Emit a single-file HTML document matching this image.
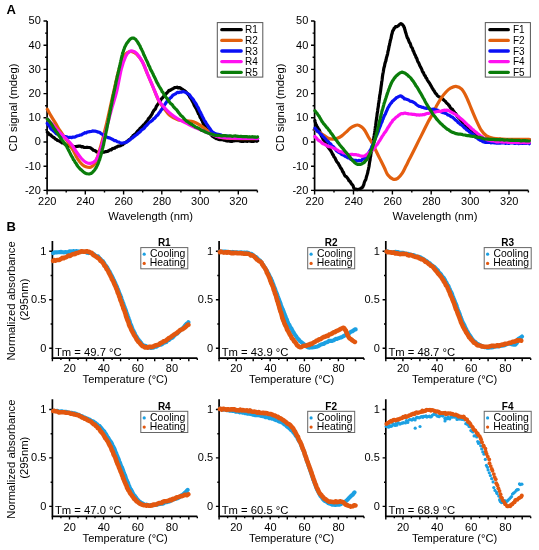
<!DOCTYPE html>
<html><head><meta charset="utf-8"><title>CD and melting curves</title>
<style>
html,body{margin:0;padding:0;background:#fff;}
body{width:539px;height:550px;overflow:hidden;}
svg{display:block;will-change:transform;}
text{font-family:"Liberation Sans",sans-serif;fill:#000;}
</style></head><body>
<svg width="539" height="550" viewBox="0 0 539 550">
<rect width="539" height="550" fill="#fff"/>
<text x="6.5" y="14.3" font-size="13" font-weight="bold">A</text>
<path d="M47.1 21 V190.4 H257.4" fill="none" stroke="#000" stroke-width="1.7"/>
<path d="M47.1 190.4 H43.5 M47.1 178.3 H45.1 M47.1 166.2 H43.5 M47.1 154.1 H45.1 M47.1 142 H43.5 M47.1 129.9 H45.1 M47.1 117.8 H43.5 M47.1 105.7 H45.1 M47.1 93.6 H43.5 M47.1 81.5 H45.1 M47.1 69.4 H43.5 M47.1 57.3 H45.1 M47.1 45.2 H43.5 M47.1 33.1 H45.1 M47.1 21 H43.5 M47.1 190.4 V194.4 M66.2 190.4 V192.6 M85.3 190.4 V194.4 M104.5 190.4 V192.6 M123.6 190.4 V194.4 M142.7 190.4 V192.6 M161.8 190.4 V194.4 M180.9 190.4 V192.6 M200.1 190.4 V194.4 M219.2 190.4 V192.6 M238.3 190.4 V194.4 M257.4 190.4 V192.6" stroke="#000" stroke-width="1.4" fill="none"/>
<text x="40.8" y="193.8" text-anchor="end" font-size="11">-20</text>
<text x="40.8" y="169.6" text-anchor="end" font-size="11">-10</text>
<text x="40.8" y="145.4" text-anchor="end" font-size="11">0</text>
<text x="40.8" y="121.2" text-anchor="end" font-size="11">10</text>
<text x="40.8" y="97" text-anchor="end" font-size="11">20</text>
<text x="40.8" y="72.8" text-anchor="end" font-size="11">30</text>
<text x="40.8" y="48.6" text-anchor="end" font-size="11">40</text>
<text x="40.8" y="24.4" text-anchor="end" font-size="11">50</text>
<text x="47.3" y="204.9" text-anchor="middle" font-size="11">220</text>
<text x="85.5" y="204.9" text-anchor="middle" font-size="11">240</text>
<text x="123.8" y="204.9" text-anchor="middle" font-size="11">260</text>
<text x="162" y="204.9" text-anchor="middle" font-size="11">280</text>
<text x="200.3" y="204.9" text-anchor="middle" font-size="11">300</text>
<text x="238.5" y="204.9" text-anchor="middle" font-size="11">320</text>
<path d="M314.6 21 V190.4 H528.4" fill="none" stroke="#000" stroke-width="1.7"/>
<path d="M314.6 190.4 H311 M314.6 178.3 H312.6 M314.6 166.2 H311 M314.6 154.1 H312.6 M314.6 142 H311 M314.6 129.9 H312.6 M314.6 117.8 H311 M314.6 105.7 H312.6 M314.6 93.6 H311 M314.6 81.5 H312.6 M314.6 69.4 H311 M314.6 57.3 H312.6 M314.6 45.2 H311 M314.6 33.1 H312.6 M314.6 21 H311 M314.6 190.4 V194.4 M334 190.4 V192.6 M353.5 190.4 V194.4 M372.9 190.4 V192.6 M392.4 190.4 V194.4 M411.8 190.4 V192.6 M431.2 190.4 V194.4 M450.7 190.4 V192.6 M470.1 190.4 V194.4 M489.6 190.4 V192.6 M509 190.4 V194.4 M528.4 190.4 V192.6" stroke="#000" stroke-width="1.4" fill="none"/>
<text x="308.3" y="193.8" text-anchor="end" font-size="11">-20</text>
<text x="308.3" y="169.6" text-anchor="end" font-size="11">-10</text>
<text x="308.3" y="145.4" text-anchor="end" font-size="11">0</text>
<text x="308.3" y="121.2" text-anchor="end" font-size="11">10</text>
<text x="308.3" y="97" text-anchor="end" font-size="11">20</text>
<text x="308.3" y="72.8" text-anchor="end" font-size="11">30</text>
<text x="308.3" y="48.6" text-anchor="end" font-size="11">40</text>
<text x="308.3" y="24.4" text-anchor="end" font-size="11">50</text>
<text x="314.8" y="204.9" text-anchor="middle" font-size="11">220</text>
<text x="353.7" y="204.9" text-anchor="middle" font-size="11">240</text>
<text x="392.6" y="204.9" text-anchor="middle" font-size="11">260</text>
<text x="431.4" y="204.9" text-anchor="middle" font-size="11">280</text>
<text x="470.3" y="204.9" text-anchor="middle" font-size="11">300</text>
<text x="509.2" y="204.9" text-anchor="middle" font-size="11">320</text>
<text x="150.7" y="219.8" text-anchor="middle" font-size="11.2">Wavelength (nm)</text>
<text x="435.0" y="219.8" text-anchor="middle" font-size="11.2">Wavelength (nm)</text>
<text transform="translate(17.4 107.5) rotate(-90)" text-anchor="middle" font-size="11.3">CD signal (mdeg)</text>
<text transform="translate(283.6 107.5) rotate(-90)" text-anchor="middle" font-size="11.3">CD signal (mdeg)</text>
<path d="M47.3 132.1 48.2 132.9 49.5 134.7 50.6 134.9 51.8 136.3 53.1 137.2 54.2 137.7 55.3 139 56.4 139.4 57.6 140.5 58.7 140.8 59.9 141.3 61.1 142.1 62.2 143 63.3 143 64.5 143.7 65.6 144.8 66.7 145.6 68.2 145.8 69.8 146 71.3 146.9 72.8 146.2 74.3 147.1 75.8 146.6 77.4 146.3 78.9 146.1 80.4 146.2 81.6 146.9 82.8 146.7 84 147.4 85.5 147.5 87 147.2 88.6 147.5 89.8 147.5 90.9 148.2 92.1 149 93.4 150.2 94.5 150.5 95.6 151 96.7 151.9 97.9 152.2 99 152.4 100.4 153 101.8 152.8 103.1 152.1 104.5 152.1 105.9 151.6 107.3 151.5 108.7 150.8 110.1 149.8 111.2 150 112.4 148.6 113.5 148.4 114.6 148.2 115.7 147.2 117 146.9 118.2 146 119.3 146.1 120.5 145.7 121.6 144.9 122.8 144.6 123.9 143.3 125 143 126.1 142.1 127.3 141.2 128.5 140.2 129.7 139.5 130.5 138.9 131.4 137.6 132.3 136.9 133.1 135.4 134 135.1 134.9 134.1 135.8 133.6 136.6 132.6 137.5 131.2 138.4 130.4 139.2 129.8 140.1 128.3 141 127.9 141.8 126.8 142.7 125.9 143.6 124.9 144.4 124.7 145.3 123 146 122.2 146.8 121.3 147.5 120.8 148.3 118.9 149 118.2 149.8 117.2 150.5 116.4 151.2 115.2 152 114.1 152.7 112.4 153.4 111.4 154.1 110.1 154.9 109.5 155.6 108.5 156.3 106.5 157.1 105.3 157.9 104.2 158.7 103.1 159.4 102.2 160.1 101.2 160.8 100 161.6 98.5 162.4 98 163.1 97 163.9 96.3 164.7 95.8 165.5 94.6 166.3 93.5 167.2 92.6 168.1 91.7 169.1 90.3 170 90.4 171.1 89.6 172.3 89 173.4 88.4 174.6 87.7 175.8 87.5 177 87.2 178.1 87.9 179.3 87.6 180.5 88.1 181.7 88.9 182.6 89.4 183.6 90.3 184.6 90.8 185.6 91.6 186.6 92.7 187.5 93.6 188.4 94.9 189.1 95.4 189.8 97.3 190.4 98 191 98.6 191.6 99.8 192.2 101 192.8 102.1 193.4 103 194 104.8 194.5 106 195.1 106.6 195.6 107.7 196.2 108.5 196.7 109.6 197.3 111 197.8 112 198.4 113.7 199 114.2 199.5 115.2 200.1 117.3 200.6 118 201.2 118.7 201.7 120.2 202.3 120.8 202.8 122.4 203.4 123.9 204 124.9 204.6 125.8 205.2 126.5 205.8 127.6 206.4 128.4 207 130 207.7 130.7 208.4 131.9 209.3 132.4 210.2 133.3 211.2 134.8 212.1 135.9 213.1 136.6 214.1 137.3 215.1 137.9 216.3 138.6 217.4 138.7 218.5 139.4 219.9 139.6 221.8 139.6 222.7 139.8 223.8 140.1 224.8 140.2 226 140.7 227.2 141.1 228.4 140.7 229.7 141.2 231.1 141.3 232.4 141.3 233.9 140.8 235.3 140.7 236.8 140.7 237.9 140.7 239.1 140.7 240.4 141.2 241.7 141.5 243.1 141.4 244.6 141 246 141.2 247.4 141.4 248.8 140.6 250.2 141.2 251.6 141.4 252.8 141.3 254 141.3 255.1 141 256.1 140.7 256.9 141.3 257.6 140.8" fill="none" stroke="#000000" stroke-width="3.2" stroke-linejoin="round" stroke-linecap="round"/>
<path d="M47.3 109.3C48 110.5 49.9 114 51.3 116.4C52.7 118.8 54.4 121.3 55.8 123.6C57.2 125.9 58.1 127.9 59.5 130C60.9 132.1 62.3 134 64 136.4C65.7 138.8 67.9 142.1 69.5 144.5C71.1 146.9 72.1 148.6 73.5 151C74.9 153.4 76.3 156.8 77.7 159C79.1 161.2 80.6 163 82 164.3C83.4 165.6 84.6 166.3 86 166.8C87.4 167.3 89 167.8 90.5 167.2C92 166.6 93.6 166 95 163.5C96.4 161 97.7 156.2 99 152C100.3 147.8 101.7 142.9 103 138C104.3 133.1 105.5 128 106.8 122.7C108 117.4 109.3 111.5 110.5 106C111.7 100.5 112.8 95.8 114.1 90C115.4 84.2 117.1 76.4 118.6 71C120.1 65.6 121.5 60.6 123 57.5C124.5 54.4 126 53.5 127.5 52.5C129 51.5 130.5 51.4 132 51.6C133.5 51.9 134.8 52.4 136.5 54C138.2 55.6 140.4 58.1 142.3 61.5C144.2 64.9 145.9 70.2 147.7 74.5C149.5 78.8 151.4 83.2 153.2 87.5C155 91.8 156.8 97 158.6 100.5C160.4 104 162.2 106 164.1 108.5C166 111 167.6 113.7 170 115.6C172.4 117.5 175.5 119.1 178.3 120C181.1 120.9 184.2 120.6 186.7 120.9C189.2 121.2 191.2 121 193.4 121.7C195.6 122.4 197.8 123.7 200 125.1C202.2 126.5 204.5 128.6 206.7 130.1C208.9 131.6 211.2 133.1 213.4 134.3C215.6 135.5 217 136.6 220.1 137.3C223.2 138 225.8 138.2 232 138.4C238.2 138.6 253.3 138.6 257.6 138.6" fill="none" stroke="#E2600E" stroke-width="3.2" stroke-linejoin="round" stroke-linecap="round"/>
<path d="M47.2 123.4 47.8 124.4 48.6 125.1 49.5 126.3 50.4 128 51.3 129.2 52.3 129.9 53.5 131 54.7 132 56 133.5 57.2 134.2 58.3 134.3 59.5 135.5 60.7 136.1 61.8 136.2 63 136.3 64.2 136.8 65.5 136.7 66.8 136.8 68 137.7 69.3 137.4 70.5 137.3 71.7 137.6 72.9 137 74.1 137.2 75.3 136.9 76.6 136.1 77.8 135.8 79 135.5 80.2 135 81.4 134.9 82.6 134 83.8 133.5 85 132.7 86.1 132.9 87.3 132 88.6 131.8 89.8 131.6 91.2 131.5 92.7 130.9 94.1 131.2 95.5 131.2 97 131.6 98.3 132.2 99.5 132.3 100.7 133.3 101.6 133.9 102.5 134.4 103.9 135.9 105.5 136.2 106.6 136.9 107.9 137.6 109.2 137.9 110.5 138.3 111.8 139 113.2 139.7 114.5 140.6 115.9 140.7 117.3 141.7 118.7 142 120 142.6 121.4 143.2 122.8 143 124.2 142.7 125.6 142.5 126.8 142.1 128.1 141 129.3 140.3 130.5 139.2 131.5 138.5 132.6 137.8 133.7 136.8 134.9 135.9 135.9 135.1 136.9 134.5 138 133.4 139 132.6 140.1 131.8 141.1 130.3 142.2 129.6 143.2 129 144.3 128 145.3 126.5 146.2 125.7 147 125 147.9 123.9 148.8 123.1 149.6 122.1 150.5 121.7 151.5 120.9 152.5 120.2 153.6 118.7 154.6 118.3 155.6 117.2 156.5 115.9 157.3 115.4 158.2 114.4 159.1 112.7 159.9 112.1 160.8 110.5 161.6 109.5 162.3 108.8 163.1 107.4 163.9 105.7 164.6 104.8 165.3 103.8 166 102.7 167.1 101.2 168 100.3 169 99.7 170 98.1 170.9 97.6 171.8 96.6 172.8 95.3 173.9 94.6 175 94.1 176.2 93.3 177.6 92.3 178.9 92.6 180.3 92 181.7 92.1 183.1 91.5 184.5 92 185.8 92.4 187.2 93.6 188.4 94 189.3 94.6 190.2 95.7 191 97.1 191.8 98 192.6 98.7 193.4 99.7 194 101.2 194.7 101.9 195.3 103 195.9 103.6 196.5 104.7 197.2 106.3 197.8 107.2 198.4 108.1 199 109.8 199.5 110.7 200.1 111.9 200.6 112.5 201.2 114.3 201.7 114.8 202.3 116.5 202.8 117.3 203.4 118.3 204 119.6 204.7 121 205.3 121.6 205.9 122.6 206.5 123.9 207.2 124.7 207.8 125.6 208.4 126.5 209.2 127.6 210 128.8 210.8 129.9 211.6 130.9 212.5 132.1 213.4 132.4 214.5 133.3 215.5 133.6 216.6 134.1 218.1 134.3 220.1 134.9 221 134.9 221.9 135.7 222.9 135.7 224 135.6 225.2 136 226.3 136.6 227.6 136.1 228.8 136.9 230.1 136.8 231.4 137 232.8 137.4 234.1 137.2 235.5 137.5 236.8 137.8 238 138.1 239.2 137.7 240.5 138.1 241.9 138.1 243.3 138.1 244.7 138 246.1 138 247.5 137.8 248.9 137.9 250.3 137.9 251.6 138.4 252.9 138.1 254.1 138 255.1 138 256.1 138.6 256.9 138.7 257.6 138.5" fill="none" stroke="#0A10F5" stroke-width="3.2" stroke-linejoin="round" stroke-linecap="round"/>
<path d="M47.3 119C47.8 119.5 49.4 121.2 50.5 122.3C51.6 123.4 52.4 124.3 53.8 125.8C55.2 127.3 57.1 129.8 58.7 131.5C60.3 133.2 62 134.7 63.6 136.3C65.2 137.9 67 139.6 68.5 141.2C70 142.8 71.3 144.2 72.6 146C73.9 147.8 75 149.9 76.5 152C78 154.1 79.8 156.8 81.4 158.5C83 160.2 84.5 161.5 86 162.3C87.5 163.1 88.9 163.7 90.5 163.4C92.1 163.1 94 162.5 95.6 160.5C97.1 158.5 98.1 156.2 99.8 151.5C101.5 146.8 103.7 138.9 105.6 132C107.5 125.1 109.5 116.5 111.3 110C113.1 103.5 114.7 99.5 116.4 92.7C118.1 85.9 119.8 75.1 121.3 69.1C122.8 63.1 124.3 59.5 125.6 56.6C126.9 53.8 127.8 52.9 129 52C130.2 51.1 131.2 50.7 132.5 51C133.8 51.3 135.2 51.8 136.8 53.6C138.4 55.4 140.5 58.3 142.3 61.8C144.1 65.3 145.9 70.2 147.7 74.5C149.5 78.8 151.4 83 153.2 87.3C155 91.5 156.8 96.7 158.6 100C160.4 103.3 162.2 105.1 164.1 107.3C166 109.5 167.6 111.2 170 113.2C172.4 115.2 175.5 117.5 178.3 119.2C181.1 120.9 183.9 122 186.7 123.4C189.5 124.8 192.2 126.3 195 127.6C197.8 128.8 200.3 129.7 203.4 130.9C206.5 132.2 210.1 134 213.4 135.1C216.7 136.2 216 137 223.4 137.6C230.8 138.2 251.9 138.3 257.6 138.4" fill="none" stroke="#FF10F0" stroke-width="3.2" stroke-linejoin="round" stroke-linecap="round"/>
<path d="M47.3 119 48.1 119.8 49.2 121.1 50.4 122.7 51.1 123.5 51.8 124.7 52.5 125.8 53.3 127.4 54 128.5 54.7 129.3 55.4 130.2 56.2 131.7 56.9 132.4 57.6 133.5 58.3 134.4 59 135.7 59.8 136.8 60.5 137.9 61.3 138.9 62 140.1 62.8 140.9 63.6 142.2 64.4 143.2 65.1 144.5 65.8 145.2 66.6 146.4 67.2 147.6 67.8 148.6 68.5 150.1 69.1 151.1 69.7 152.4 70.3 153.6 71 155 71.7 156.3 72.3 157.2 72.9 158.3 73.5 159.8 74.2 160.4 74.8 161.7 75.4 162.7 76 163.2 76.9 165 77.7 166.2 78.6 167.2 79.5 168.3 80.3 169.3 81.2 169.7 82.1 170.8 83.1 171.6 84 172.4 85.1 173 86.3 173.6 87.4 173.8 88.6 174 89.8 173.8 91.1 173.4 92.4 172.4 93.6 171.2 94.2 170.5 94.8 169.8 95.4 168.6 96 168 96.6 166.7 97.2 165.5 97.8 164.3 98.3 163.1 98.7 161.9 99.2 160.5 99.6 159.8 99.9 158.6 100.3 157.3 100.7 156 101 154.8 101.4 153 101.8 151.9 102.1 150.6 102.3 149.3 102.6 148.3 102.9 147.4 103.2 145.8 103.5 144.9 103.7 143.7 104 142.1 104.3 140.8 104.6 139.5 104.8 138.3 105.1 137 105.4 135.6 105.6 134.4 105.9 133 106.1 131.8 106.3 130.8 106.6 129.9 106.8 128.5 107 127.4 107.3 125.9 107.5 124.7 107.7 123.6 108 122.6 108.2 121.4 108.5 120.1 108.7 118.5 109 117.3 109.2 116.2 109.4 115.1 109.7 113.7 109.9 113.1 110.1 111.5 110.3 110.8 110.6 109.5 110.8 107.8 111 106.8 111.3 105.8 111.5 104.7 111.8 103.1 112 101.8 112.2 100.5 112.5 99.7 112.7 98 113 97 113.2 95.5 113.5 94.5 113.7 93.6 114 91.9 114.2 91.2 114.5 89.8 114.7 88.8 115 87.5 115.3 86 115.5 85.2 115.8 83.7 116 82.2 116.3 81 116.6 80.1 116.8 78.9 117.1 77.6 117.3 76.3 117.6 75.3 117.9 74.1 118.1 73.3 118.4 71.7 118.6 71.1 118.9 69.8 119.2 68 119.5 67.1 119.8 65.7 120.1 64.4 120.4 62.8 120.7 61.5 120.9 60.3 121.2 59.4 121.5 57.9 121.8 56.6 122.1 55.5 122.4 54.3 122.6 53.2 122.9 52.2 123.2 51.7 123.8 49.7 124.3 48.6 124.9 46.8 125.5 45.7 126 44.7 126.6 43.6 127.1 42.8 127.7 42.3 128.6 40.9 129.5 39.8 130.5 38.8 131.4 38.3 132.3 38.1 133.4 38 134.6 38.7 135.7 39.3 136.8 41 137.5 41.8 138.1 43 138.8 44 139.4 45.1 140.1 46.2 140.7 48 141.4 48.9 141.9 50.1 142.4 51.1 142.9 52.1 143.4 53.5 143.8 54.7 144.3 55.4 144.8 56.8 145.4 57.8 145.9 59.1 146.4 60.1 146.9 61.1 147.5 62.3 148 63.5 148.5 65.1 149.1 66 149.7 67.1 150.2 68.7 150.8 70 151.4 70.9 151.9 71.8 152.5 73 153.1 74.1 153.6 75.4 154.2 76.5 154.8 77.7 155.4 78.9 156 80.3 156.5 81.6 157.1 82.7 157.7 83.5 158.3 84.7 159 86 159.6 87 160.3 88.1 160.9 89.1 161.6 90.3 162.2 91.8 162.9 92.3 163.5 93.5 164.1 94.6 164.9 95.9 165.6 96.5 166.3 97.6 167 98.6 167.8 99.6 168.5 100.6 169.2 101.8 170 102.7 170.8 103.7 171.6 104.1 172.5 105.1 173.3 106.4 174.2 107.5 175 108.2 175.9 109.2 176.7 109.8 177.5 111 178.4 112.4 179.2 113.3 180.1 114.4 180.9 115.5 181.7 116 182.6 116.9 183.4 117.8 184.3 118.9 185.2 119.8 186.1 120.8 187.1 121.4 188 122 189 122.8 190 123.4 191 124.1 192 124.4 193 125.5 194.1 125.8 195.2 126.9 196.3 127.3 197.3 127.7 198.4 128.2 199.6 128.9 200.8 129.8 202 130.5 203.1 130.7 204.3 131.3 205.5 132.1 206.7 132.6 207.9 133 208.9 133.3 210 133.9 211.2 133.9 212.3 134.4 213.6 134.8 215.1 135.4 216.1 135.3 217 135.6 217.9 135.4 218.9 135.3 219.9 135.4 221 135.9 222.2 135.8 223.5 135.6 224.9 135.5 226.6 135.8 228.4 136 229.3 135.9 230.4 135.8 231.5 136.1 232.7 136.3 233.9 136 235.3 135.9 236.6 136.2 238 136.3 239.5 136.5 240.9 136.3 242.4 136.7 243.8 136.7 245.3 136.6 246.7 136.5 248.1 137 249.4 136.7 250.7 137 252 136.7 253.1 136.8 254.2 137.1 255.2 136.9 256.1 137.3 256.9 137.1 257.6 136.9" fill="none" stroke="#0A7D0A" stroke-width="3.2" stroke-linejoin="round" stroke-linecap="round"/>
<path d="M314.9 120.6 315.1 121.6 315.5 123.1 315.9 124.7 316.4 125.1 317 126.5 317.7 127.4 318.4 129.3 319.1 129.6 319.6 130.7 320 131.9 320.5 133.5 321.1 135.4 321.6 136.4 322.2 137.3 322.8 138.7 323.4 139.7 324.1 140.2 324.7 141.2 325.3 143 325.9 143.9 326.6 144.2 327.2 145.9 327.8 146.6 328.4 147.6 329.1 148.6 329.8 149.5 330.5 150.3 331.3 151.6 332 152.9 332.7 154.5 333.3 154.9 334 157 334.7 157.5 335.4 158.8 336 160.3 336.8 161.7 337.6 162.6 338.3 163.3 339 165 339.8 166.1 340.6 168 341.3 168.5 342 169.9 342.7 171.8 343.3 172.2 344 173.9 344.7 175.3 345.4 176.3 346.2 176.6 347 177.5 348 178.8 349 180.8 350 181.3 350.9 182.9 351.7 184.2 352.5 184.8 353.2 186.1 353.8 188.1 354.5 188.7 355.7 189 357 189.6 358.5 189.3 360 189 361 188.1 361.9 187.9 362.8 186.9 363.3 185.6 363.8 184.7 364.3 182.5 364.8 181.2 365.2 180.5 365.6 179.9 366 178.7 366.4 177 366.8 175.6 367.2 174.4 367.5 173.4 367.7 172.7 368 170.8 368.2 170.2 368.5 168.9 368.7 167.8 369 166.5 369.2 165.1 369.4 163.6 369.6 162.3 369.8 161.1 370 160.3 370.2 158.3 370.4 157.1 370.6 156.5 370.8 154.7 371 153.3 371.3 152.2 371.5 151.7 371.7 150.3 372 149.8 372.3 148.2 372.6 146.5 372.7 144.9 372.9 143.7 373.1 142.7 373.2 142 373.4 141 373.6 139.6 373.8 138.1 373.9 137 374.1 136 374.3 134.7 374.5 133.5 374.7 132.3 374.9 130.9 375.1 129.1 375.2 128.5 375.4 126.8 375.6 125.8 375.8 124.3 375.9 123.4 376.1 121.6 376.3 120.3 376.5 119 376.6 117.7 376.8 117.1 377 115.5 377.1 114 377.3 112.8 377.5 112.2 377.7 110.4 377.8 108.9 378 108.3 378.2 106.9 378.4 106 378.5 103.9 378.7 103.1 378.9 102.3 379 101.1 379.2 100 379.4 98 379.6 97.1 379.7 95.7 379.9 94.6 380.1 94.1 380.3 92.4 380.5 91.4 380.7 89.7 380.8 89 381 87.4 381.2 86 381.3 85.2 381.5 84.1 381.7 81.9 381.9 81.1 382.1 79.8 382.3 78.1 382.4 77 382.6 75.5 382.8 74.3 383 73.2 383.2 72.3 383.4 71.2 383.6 69.7 383.9 68 384.2 67 384.5 66 384.8 64.2 385.1 63 385.5 61.7 385.8 61.1 386.1 59.7 386.4 58 386.7 56.9 387 56 387.3 55.1 387.6 53.8 387.9 51.9 388.2 50.6 388.5 49.9 388.7 48.3 389 46.9 389.2 45.7 389.5 45.1 389.7 43.3 390 42.4 390.3 40.8 390.6 39.6 390.9 38.7 391.2 37.5 391.5 35.6 391.8 34.2 392.1 33.6 392.4 32 392.7 30.9 393.4 30.1 394.1 28.4 394.8 27.9 395.5 26.7 396.9 26.6 398.2 25.9 399.5 24.5 400.9 23.6 402.2 24.4 403.6 26 404 27.3 404.4 27.6 404.8 29.6 405.2 30.8 405.6 32.4 406 33.4 406.4 34.8 406.9 36.4 407.4 38 407.9 38.3 408.4 39.9 409.1 41.7 409.5 42.8 410 43 410.4 44 410.9 45.9 411.4 47 412 47.7 412.5 48.5 413 50.6 413.6 51.3 414.1 52.9 414.5 53.7 415 55 415.5 55.6 416 57.4 416.6 58 417.1 59.4 417.6 61 418.1 62.2 418.6 62.7 419.1 63.8 419.6 65.2 420.2 66.4 420.7 67.4 421.3 68.3 421.8 69.5 422.3 71.1 422.9 72.3 423.4 72.5 424 74.1 424.5 75.3 425.2 75.8 425.9 77.7 426.6 78.2 427.2 79.8 427.9 80.8 428.6 82 429.3 82.8 430 84 430.7 85.4 431.4 86.4 432.1 87.9 432.8 88.9 433.5 90.1 434.2 90.8 434.9 92.4 435.5 93.2 436.5 94.1 437.4 95.6 438.3 96.4 439.1 96.8 440 97.2 441.1 98.3 442.1 98.6 443.1 99.3 444.1 100.4 445.1 101 446 102.2 446.9 103.3 448 104 448.7 105.4 449.4 105.7 450.1 107.3 450.9 108.3 451.7 109 452.6 109.5 453.4 111 454.2 111.8 455 113.4 455.8 113.6 456.6 115.3 457.5 116.5 458.3 117.2 459.2 118.3 460 118.7 460.8 120.4 461.7 120.9 462.5 122.3 463.3 123.1 464.2 123.3 465 124.8 465.9 125.9 466.7 125.9 467.7 127.2 468.6 128.6 469.6 129 470.5 130.7 471.5 131.1 472.4 132.5 473.4 132.6 474.5 133.9 475.5 135.1 476.5 135.2 477.6 135.9 478.8 136.8 480.1 137.1 481 137.2 481.7 137.7 482.3 137.9 483.1 139 484.1 138.9 485.5 139.3 487.4 138.8 490.1 139.6 490.9 139 491.8 139.4 492.8 139.6 493.9 139.3 495 139.9 496.2 139.6 497.5 139.7 498.8 140 500.1 139.2 501.5 140.2 502.9 139.8 504.4 139.6 505.9 140 507.3 139.5 508.8 140.3 510.3 139.9 511.8 139.7 513.3 140.1 514.8 139.8 516.2 139.6 517.6 140.2 519 139.5 520.3 140.3 521.6 139.7 522.8 140.1 524 140.5 525.1 140.1 526.1 140.2 527 139.9 527.9 139.6 528.6 139.6 529.3 139.7" fill="none" stroke="#000000" stroke-width="3.2" stroke-linejoin="round" stroke-linecap="round"/>
<path d="M314.9 128.8C315.4 129.3 316.9 130.9 318.2 131.8C319.5 132.8 321 133.4 322.7 134.5C324.4 135.6 326.5 137.4 328.2 138.2C329.9 139 331.2 139.1 332.7 139.1C334.2 139.1 335.8 138.7 337.3 138.2C338.8 137.7 340.3 137 341.8 135.9C343.3 134.8 345 133.1 346.4 131.8C347.8 130.5 348.9 129.3 350.2 128.3C351.5 127.3 352.8 126.5 354 126C355.2 125.5 356.2 124.9 357.5 125C358.8 125.1 360.3 126 361.5 126.8C362.7 127.6 363.4 128.4 364.5 130C365.6 131.6 366.8 134.2 368.1 136.5C369.4 138.8 371.1 141.1 372.5 143.8C373.9 146.5 375.4 149.6 376.8 152.5C378.2 155.4 379.9 158.7 381.2 161.3C382.5 163.9 383.4 165.8 384.5 168C385.6 170.2 386.2 172.9 387.7 174.8C389.1 176.7 391.5 178.6 393.2 179.2C394.9 179.8 396.2 179.4 397.7 178.4C399.2 177.4 400.9 175.3 402.3 173.2C403.7 171.1 404.8 168.3 406 166C407.2 163.7 408.1 161.8 409.5 159.1C410.9 156.4 412.6 153 414.1 150C415.6 147 417.1 143.9 418.6 140.9C420.1 137.9 421.7 134.8 423.2 131.8C424.7 128.8 426.3 125.4 427.7 122.7C429.1 120 430.2 118.4 431.6 115.8C433 113.2 434.4 109.9 436 107C437.6 104.1 439.3 100.8 441 98.3C442.7 95.8 444.4 93.7 446 92C447.6 90.3 448.9 89.1 450.5 88.2C452.1 87.3 454 86.2 455.9 86.4C457.8 86.6 460 87.5 461.7 89.2C463.4 90.9 464.7 93.5 466.3 96.7C467.9 99.9 469.6 104.5 471.2 108.4C472.8 112.3 474.5 116.5 476.2 120.1C477.9 123.7 479.5 127.5 481.2 130.1C482.9 132.7 484.5 134.5 486.5 135.9C488.5 137.3 490 137.8 493.4 138.4C496.8 139 500.8 139.2 506.8 139.3C512.8 139.5 525.5 139.3 529.3 139.3" fill="none" stroke="#E2600E" stroke-width="3.2" stroke-linejoin="round" stroke-linecap="round"/>
<path d="M314.9 128.3 315.5 128.8 316.3 129.8 317.3 131.2 318.1 131.4 319 132.4 319.9 133.6 320.9 134.1 321.8 135 322.7 136.2 323.6 136.9 324.6 138.1 325.5 138.9 326.4 140.1 327.4 141 328.3 141.6 329.2 142.9 330 143.6 330.9 144.2 331.7 145.7 332.6 146.1 333.6 147 334.4 147.8 335.2 149.1 336.1 150.3 337.1 151.2 338.1 151.8 339.3 152.6 340.3 153.1 341.4 154.2 342.6 154.8 343.8 155.3 345 156.2 346.2 156.6 347.4 157.5 348.4 157.9 349.6 158.1 350.8 159.3 351.8 159.1 352.8 160 353.9 160.3 355 160.4 356.2 160.4 357.4 161 358.7 160.4 360 160.6 361.2 160.6 362.3 159.5 363.4 158.9 364.4 158.4 365.4 157.4 366.3 156.4 367.2 155.4 368.1 153.7 368.7 152.9 369.3 151.9 369.9 150.7 370.4 150.2 370.9 149 371.4 147.8 372 146.1 372.5 145.6 373 144.4 373.5 143.1 373.9 142.3 374.4 140.9 374.9 139.6 375.4 138.3 375.8 137.3 376.3 135.9 376.8 135 377.2 134.2 377.7 133 378.1 132 378.6 130.7 379 129.1 379.4 128.1 379.9 126.9 380.3 126 380.8 124.6 381.2 123.3 381.7 122.4 382.2 121.5 382.6 119.7 383.1 119.1 383.6 117.3 384.1 116.4 384.5 115.2 385 114.6 385.5 113.7 386 112.3 386.6 110.8 387.1 110 387.7 108.4 388.2 107.3 388.8 106.7 389.3 105.5 389.9 104.7 390.8 103.4 391.7 102.5 392.5 101.1 393.4 100.6 394.3 99.7 395.4 98.8 396.5 97.6 397.6 97.2 398.6 96.6 400.1 95.9 401.5 96.1 402.4 97 403.3 97.5 404.5 99 405.7 98.9 407.1 99.4 408.6 99.9 410 101.1 411.3 101.3 412.5 101.8 413.7 102.4 415 103.1 416 104.3 417 105 418 105.7 419.2 106.4 420.5 106.5 421.6 107.2 422.8 107.3 424.1 107.9 425.5 108.1 426.8 108.4 428.2 108 429.5 108.9 430.8 109.2 432.1 109.5 433.4 109.1 434.8 109.5 436.1 109.8 437.4 110 438.6 111.1 439.8 111.5 441 111.8 442.2 112.4 443.4 112.7 444.5 113 445.6 113.4 446.7 113.9 447.9 115 449 115.2 450.1 115.9 451.2 116.7 452.3 117.1 453.4 118 454.3 118.7 455.3 119.9 456.2 120.4 457.2 121.2 458.1 122.5 459.1 123 460 124.1 461 124.7 461.9 125.1 462.9 126.2 463.8 127.1 464.8 128.2 465.7 128.7 466.7 129.8 467.7 130.4 468.6 131 469.6 132.2 470.5 132.4 471.5 133.7 472.4 134 473.4 134.6 474.3 135.5 475.2 136.8 476.1 137.7 477 137.7 477.9 138.8 479 139.5 480.1 140.3 481 140.3 481.7 140.9 482.3 141.2 483.1 141.9 484.1 141.7 485.5 142.5 487.4 142.2 490.1 142.4 490.9 142.8 491.8 142.7 492.8 142.4 493.9 142.9 495 142.5 496.2 143.1 497.5 143.1 498.8 143.2 500.1 143.1 501.5 142.9 502.9 143 504.4 143 505.9 143.4 507.3 142.8 508.8 143.4 510.3 142.8 511.8 142.9 513.3 143 514.8 143.5 516.2 143.2 517.6 143.2 519 143.6 520.3 143.1 521.6 143.3 522.8 143.3 524 143.5 525.1 143.5 526.1 143.5 527 143.2 527.9 143.2 528.6 143.1 529.3 143.7" fill="none" stroke="#0A10F5" stroke-width="3.2" stroke-linejoin="round" stroke-linecap="round"/>
<path d="M314.9 136.5 315.4 137.2 316.3 137.8 317.3 139.1 318.3 140.1 319.4 140.9 320.6 141.6 321.8 142.7 322.9 143.7 324.1 144.1 325.3 144.7 326.4 145.4 327.5 146.1 328.6 146.7 329.8 146.7 330.9 147.1 332.1 147.6 333.2 148.1 334.4 148.6 335.5 148.9 336.6 149.6 337.7 150.2 339.3 151.5 340.3 151.7 341.6 151.8 343 152.8 344.4 152.7 345.8 153.3 347.2 154.1 348.4 154.3 349.8 154.5 351.1 154.4 352.3 154.3 353.6 154.7 355 154.5 356.2 154.7 357.4 155.1 358.7 155.2 360.1 155.7 361.4 156.1 362.6 156.2 363.7 156 365 155.7 366.2 155 367.3 154.1 368.4 153.5 369.5 152.4 370.5 151.8 371.5 151.1 372.5 149.9 373.4 149 374.4 148 375.4 146.7 376.1 145.6 376.9 144.9 377.6 143.9 378.3 142.7 379 141.5 379.8 140.5 380.5 139.2 381.2 138.1 381.9 136.9 382.6 135.7 383.4 134.8 384.1 133.4 384.8 132.5 385.6 131.7 386.3 130.5 387 129.4 387.7 128 388.4 127 389.2 125.8 389.9 124.7 390.6 123.5 391.4 122.5 392.1 121.7 392.8 120.3 393.8 119.5 394.8 118.6 395.8 117.5 396.8 116.8 397.7 116.4 398.6 115.2 399.7 114.7 400.6 113.8 401.7 113.7 403 113.6 404 113.3 405.1 113.1 406.3 113.5 407.5 113.6 408.8 113.9 410.1 114 411.4 114.2 412.7 114.4 414 114.4 415.3 114.6 416.6 115.1 417.9 114.8 419.2 115.1 420.5 114.9 421.8 115 423.1 114.5 424.4 114.7 425.6 114 426.9 113.5 428.2 113.3 429.5 113.1 430.8 112.6 432.1 112.6 433.4 112.3 434.8 112.2 436.1 111.8 437.4 111.5 438.6 111.2 440 111.3 441.4 111.1 442.8 110.6 444.1 110.2 445.4 110.4 446.7 110.2 447.9 110.4 449 110.7 450.1 111.6 451.2 112.1 452.3 112.7 453.4 113.2 454.5 113.9 455.6 114.4 456.7 115.6 457.8 116 458.9 117 460 118 461 118.8 461.9 119.4 462.9 120.2 463.8 121.3 464.8 122 465.7 123.3 466.7 123.9 467.7 125.1 468.6 125.7 469.6 126.6 470.5 127.5 471.5 128.5 472.4 129.2 473.4 129.9 474.4 131.1 475.3 131.7 476.3 132.4 477.2 133.2 478.2 134 479.1 134.7 480.1 135.5 481.1 136.2 482.1 136.8 483.1 137.8 484.1 138.4 485.3 138.5 486.7 139.5 487.7 139.9 488.6 140.2 489.5 140.1 490.5 140.8 491.6 141 492.9 140.9 494.4 141.1 496.2 141.9 498.4 141.9 499.3 141.7 500.3 141.7 501.4 141.8 502.6 141.9 503.8 142.2 505.2 142 506.5 142 507.9 142.5 509.4 142.4 510.9 142.1 512.3 142.5 513.8 142.4 515.3 142.5 516.8 142.5 518.2 142.7 519.7 142.6 521 142.7 522.3 142.3 523.6 142.6 524.8 142.5 525.9 142.7 526.9 142.5 527.8 142.8 528.6 142.6 529.3 142.5" fill="none" stroke="#FF10F0" stroke-width="3.2" stroke-linejoin="round" stroke-linecap="round"/>
<path d="M314.9 110.8 315.5 111.5 316.3 112.7 317.3 113.7 318.2 115.2 319.1 116.3 319.8 117.6 320.5 118.8 321.2 120 321.9 121.4 322.7 122.3 323.4 123.6 324.2 124.3 325 125.3 325.8 126.3 326.6 127.4 327.5 128.1 328.2 129.1 329 130.3 329.8 131 330.5 132.3 331.2 133.3 332 134.1 332.7 135.3 333.5 136.4 334.2 137.6 335 138.4 335.8 139.7 336.5 140.6 337.3 141.6 338 142.7 338.7 143.3 339.4 144.4 340.1 145.3 340.9 146.2 341.8 147.4 342.5 148.1 343.3 149.1 344.2 150.2 345.1 151.3 345.9 152.1 346.8 153.3 347.6 154.2 348.4 155.2 349.3 156.5 350.3 157.5 351.1 158.8 351.9 159.7 352.7 160.7 353.5 161.4 354.6 162.5 355.6 163.4 356.5 163.9 357.5 164.3 358.8 164.4 360.1 164.4 361.5 163.9 362.5 163.5 363.5 162.9 364.6 162.1 365.6 160.8 366.6 159.9 367.2 159.1 367.7 158.1 368.3 156.9 368.8 155.9 369.4 154.7 369.9 153.6 370.5 152.6 371 151.1 371.4 150.1 371.8 149.1 372.2 148 372.6 146.8 373 145.6 373.5 144.3 373.9 143.1 374.3 141.8 374.6 140.6 375 139.1 375.4 138.1 375.7 136.8 376 135.8 376.4 134.3 376.7 133.1 377 131.9 377.2 131 377.5 129.8 377.8 128.5 378.1 127.1 378.4 126.1 378.7 124.8 379 123.5 379.3 122.2 379.6 121 379.9 119.8 380.2 118.5 380.5 117.3 380.8 116.1 381.1 115 381.4 113.4 381.7 112.4 382 111 382.3 109.9 382.6 109 383 107.6 383.3 106.5 383.7 105.1 384 103.7 384.4 102.6 384.8 101.5 385.1 100.5 385.5 99.3 386 97.8 386.4 96.5 386.8 95.2 387.2 94.2 387.6 92.8 388.1 91.5 388.5 90.2 389 88.9 389.5 87.9 389.9 86.4 390.4 85.6 390.9 84.1 391.3 83.4 391.8 82.2 392.6 80.7 393.4 79.7 394.2 78.3 395 77.5 395.8 76.4 396.6 75.6 397.3 75.1 398.5 74 399.6 73.2 400.7 72.6 401.8 72.1 402.9 72.4 404 72.8 405.2 73.3 406.4 74.3 407.3 74.7 408.1 75.7 409 76.5 410 77.2 410.9 78.2 411.8 79.6 412.5 80.5 413.2 81.2 413.9 82.3 414.6 83.5 415.2 84.3 415.9 85.7 416.6 86.6 417.3 87.5 418 88.7 418.7 89.9 419.3 91 420 92.3 420.7 93.2 421.4 94.6 422 95.6 422.7 96.9 423.3 98 423.9 99 424.5 100.1 425.1 101.4 425.7 102.5 426.3 103.6 427 104.7 427.7 105.8 428.3 106.8 429 108.2 429.7 109.2 430.5 110.4 431.2 111.3 432 112.6 432.7 113.9 433.5 114.9 434.3 115.9 435 116.7 435.8 117.8 436.6 119 437.4 119.8 438.2 120.9 439.1 121.7 439.9 122.7 440.7 123.5 441.5 124.1 442.3 124.8 443.3 125.9 444.4 126.8 445.5 127.7 446.5 128.6 447.6 129.4 448.6 129.7 449.5 130.6 450.7 131.4 451.8 132 452.8 132.4 453.9 132.7 455 133.3 456.2 133.7 457.5 133.9 458.8 134.2 460.2 134.2 461.7 134.3 462.8 134.7 463.9 135 465.1 135 466.2 135.4 467.5 135.6 468.7 135.6 470 135.9 471.2 136.2 472.4 136.3 473.7 136.4 474.9 136.6 476.2 137 477.5 137.3 478.8 137.4 480.1 137.4 481.2 137.9 481.9 138.1 482.6 138.1 483.3 138.5 484.2 138.8 485.5 139 487.5 139.1 490.1 139.3 490.9 139.4 491.8 139.3 492.8 139.3 493.9 139.4 495 139.7 496.2 139.6 497.5 139.7 498.8 139.7 500.1 139.8 501.5 139.7 502.9 139.7 504.4 140.2 505.9 140 507.3 139.9 508.8 140.2 510.3 140.3 511.8 140.1 513.3 140.4 514.8 140.3 516.2 140.4 517.6 140.3 519 140.3 520.3 140.8 521.6 140.8 522.8 140.7 524 140.7 525.1 140.6 526.1 140.9 527 140.8 527.9 141 528.6 141 529.3 141" fill="none" stroke="#0A7D0A" stroke-width="3.2" stroke-linejoin="round" stroke-linecap="round"/>
<rect x="217.3" y="22.6" width="45.5" height="54.5" fill="#fff" stroke="#555" stroke-width="1"/>
<path d="M221.8 29.7 H241.2" stroke="#000000" stroke-width="3.3" stroke-linecap="round"/>
<text x="245" y="33.2" font-size="10">R1</text>
<path d="M221.8 40.4 H241.2" stroke="#E2600E" stroke-width="3.3" stroke-linecap="round"/>
<text x="245" y="43.9" font-size="10">R2</text>
<path d="M221.8 51 H241.2" stroke="#0A10F5" stroke-width="3.3" stroke-linecap="round"/>
<text x="245" y="54.5" font-size="10">R3</text>
<path d="M221.8 61.6 H241.2" stroke="#FF10F0" stroke-width="3.3" stroke-linecap="round"/>
<text x="245" y="65.1" font-size="10">R4</text>
<path d="M221.8 72.3 H241.2" stroke="#0A7D0A" stroke-width="3.3" stroke-linecap="round"/>
<text x="245" y="75.8" font-size="10">R5</text>
<rect x="485.3" y="22.6" width="45.1" height="54.5" fill="#fff" stroke="#555" stroke-width="1"/>
<path d="M489.9 29.7 H508.3" stroke="#000000" stroke-width="3.3" stroke-linecap="round"/>
<text x="513" y="33.2" font-size="10">F1</text>
<path d="M489.9 40.4 H508.3" stroke="#E2600E" stroke-width="3.3" stroke-linecap="round"/>
<text x="513" y="43.9" font-size="10">F2</text>
<path d="M489.9 51 H508.3" stroke="#0A10F5" stroke-width="3.3" stroke-linecap="round"/>
<text x="513" y="54.5" font-size="10">F3</text>
<path d="M489.9 61.6 H508.3" stroke="#FF10F0" stroke-width="3.3" stroke-linecap="round"/>
<text x="513" y="65.1" font-size="10">F4</text>
<path d="M489.9 72.3 H508.3" stroke="#0A7D0A" stroke-width="3.3" stroke-linecap="round"/>
<text x="513" y="75.8" font-size="10">F5</text>
<text x="6.5" y="230.6" font-size="13" font-weight="bold">B</text>
<text transform="translate(14.7 300.9) rotate(-90)" text-anchor="middle" font-size="11.3">Normalized absorbance</text>
<text transform="translate(27.7 299.5) rotate(-90)" text-anchor="middle" font-size="11.3">(295nm)</text>
<text transform="translate(14.7 459.1) rotate(-90)" text-anchor="middle" font-size="11.3">Normalized absorbance</text>
<text transform="translate(27.7 457.7) rotate(-90)" text-anchor="middle" font-size="11.3">(295nm)</text>
<path d="M52.4 241 V358.2 H197.3" fill="none" stroke="#000" stroke-width="1.7"/>
<path d="M52.4 348.2 H49.2 M52.4 324 H50.6 M52.4 299.8 H49.2 M52.4 275.5 H50.6 M52.4 251.3 H49.2 M52.4 358.2 V361.3 M60.9 358.2 V360.1 M69.5 358.2 V361.3 M78 358.2 V360.1 M86.5 358.2 V361.3 M95 358.2 V360.1 M103.6 358.2 V361.3 M112.1 358.2 V360.1 M120.6 358.2 V361.3 M129.1 358.2 V360.1 M137.7 358.2 V361.3 M146.2 358.2 V360.1 M154.7 358.2 V361.3 M163.2 358.2 V360.1 M171.8 358.2 V361.3 M180.3 358.2 V360.1 M188.8 358.2 V361.3 M197.3 358.2 V360.1" stroke="#000" stroke-width="1.4" fill="none"/>
<text x="46.4" y="351.5" text-anchor="end" font-size="11">0</text>
<text x="46.4" y="303.1" text-anchor="end" font-size="11">0.5</text>
<text x="46.4" y="254.6" text-anchor="end" font-size="11">1</text>
<text x="69.7" y="371.7" text-anchor="middle" font-size="11">20</text>
<text x="103.8" y="371.7" text-anchor="middle" font-size="11">40</text>
<text x="137.8" y="371.7" text-anchor="middle" font-size="11">60</text>
<text x="171.9" y="371.7" text-anchor="middle" font-size="11">80</text>
<text x="125.2" y="383.3" text-anchor="middle" font-size="11.1">Temperature (°C)</text>
<text x="55" y="355.6" font-size="11.25">Tm = 49.7 °C</text>
<path d="M219.1 241 V358.2 H364" fill="none" stroke="#000" stroke-width="1.7"/>
<path d="M219.1 348.2 H215.9 M219.1 324 H217.3 M219.1 299.8 H215.9 M219.1 275.5 H217.3 M219.1 251.3 H215.9 M219.1 358.2 V361.3 M227.6 358.2 V360.1 M236.2 358.2 V361.3 M244.7 358.2 V360.1 M253.2 358.2 V361.3 M261.7 358.2 V360.1 M270.2 358.2 V361.3 M278.8 358.2 V360.1 M287.3 358.2 V361.3 M295.8 358.2 V360.1 M304.4 358.2 V361.3 M312.9 358.2 V360.1 M321.4 358.2 V361.3 M329.9 358.2 V360.1 M338.4 358.2 V361.3 M347 358.2 V360.1 M355.5 358.2 V361.3 M364 358.2 V360.1" stroke="#000" stroke-width="1.4" fill="none"/>
<text x="213.1" y="351.5" text-anchor="end" font-size="11">0</text>
<text x="213.1" y="303.1" text-anchor="end" font-size="11">0.5</text>
<text x="213.1" y="254.6" text-anchor="end" font-size="11">1</text>
<text x="236.3" y="371.7" text-anchor="middle" font-size="11">20</text>
<text x="270.4" y="371.7" text-anchor="middle" font-size="11">40</text>
<text x="304.6" y="371.7" text-anchor="middle" font-size="11">60</text>
<text x="338.6" y="371.7" text-anchor="middle" font-size="11">80</text>
<text x="291.7" y="383.3" text-anchor="middle" font-size="11.1">Temperature (°C)</text>
<text x="221.7" y="355.6" font-size="11.25">Tm = 43.9 °C</text>
<path d="M385.8 241 V358.2 H530.7" fill="none" stroke="#000" stroke-width="1.7"/>
<path d="M385.8 348.2 H382.6 M385.8 324 H384 M385.8 299.8 H382.6 M385.8 275.5 H384 M385.8 251.3 H382.6 M385.8 358.2 V361.3 M394.3 358.2 V360.1 M402.9 358.2 V361.3 M411.4 358.2 V360.1 M419.9 358.2 V361.3 M428.4 358.2 V360.1 M437 358.2 V361.3 M445.5 358.2 V360.1 M454 358.2 V361.3 M462.5 358.2 V360.1 M471.1 358.2 V361.3 M479.6 358.2 V360.1 M488.1 358.2 V361.3 M496.6 358.2 V360.1 M505.2 358.2 V361.3 M513.7 358.2 V360.1 M522.2 358.2 V361.3 M530.7 358.2 V360.1" stroke="#000" stroke-width="1.4" fill="none"/>
<text x="379.8" y="351.5" text-anchor="end" font-size="11">0</text>
<text x="379.8" y="303.1" text-anchor="end" font-size="11">0.5</text>
<text x="379.8" y="254.6" text-anchor="end" font-size="11">1</text>
<text x="403.1" y="371.7" text-anchor="middle" font-size="11">20</text>
<text x="437.2" y="371.7" text-anchor="middle" font-size="11">40</text>
<text x="471.2" y="371.7" text-anchor="middle" font-size="11">60</text>
<text x="505.4" y="371.7" text-anchor="middle" font-size="11">80</text>
<text x="454.7" y="383.3" text-anchor="middle" font-size="11.1">Temperature (°C)</text>
<text x="388.4" y="355.6" font-size="11.25">Tm = 48.7 °C</text>
<path d="M52.4 399.2 V516.4 H197.3" fill="none" stroke="#000" stroke-width="1.7"/>
<path d="M52.4 506.4 H49.2 M52.4 482.2 H50.6 M52.4 457.9 H49.2 M52.4 433.7 H50.6 M52.4 409.5 H49.2 M52.4 516.4 V519.5 M60.9 516.4 V518.3 M69.5 516.4 V519.5 M78 516.4 V518.3 M86.5 516.4 V519.5 M95 516.4 V518.3 M103.6 516.4 V519.5 M112.1 516.4 V518.3 M120.6 516.4 V519.5 M129.1 516.4 V518.3 M137.7 516.4 V519.5 M146.2 516.4 V518.3 M154.7 516.4 V519.5 M163.2 516.4 V518.3 M171.8 516.4 V519.5 M180.3 516.4 V518.3 M188.8 516.4 V519.5 M197.3 516.4 V518.3" stroke="#000" stroke-width="1.4" fill="none"/>
<text x="46.4" y="509.7" text-anchor="end" font-size="11">0</text>
<text x="46.4" y="461.2" text-anchor="end" font-size="11">0.5</text>
<text x="46.4" y="412.8" text-anchor="end" font-size="11">1</text>
<text x="69.7" y="530.8" text-anchor="middle" font-size="11">20</text>
<text x="103.8" y="530.8" text-anchor="middle" font-size="11">40</text>
<text x="137.8" y="530.8" text-anchor="middle" font-size="11">60</text>
<text x="171.9" y="530.8" text-anchor="middle" font-size="11">80</text>
<text x="125.2" y="542.4" text-anchor="middle" font-size="11.1">Temperature (°C)</text>
<text x="55" y="513.8" font-size="11.25">Tm = 47.0 °C</text>
<path d="M219.1 399.2 V516.4 H364" fill="none" stroke="#000" stroke-width="1.7"/>
<path d="M219.1 506.4 H215.9 M219.1 482.2 H217.3 M219.1 457.9 H215.9 M219.1 433.7 H217.3 M219.1 409.5 H215.9 M219.1 516.4 V519.5 M227.6 516.4 V518.3 M236.2 516.4 V519.5 M244.7 516.4 V518.3 M253.2 516.4 V519.5 M261.7 516.4 V518.3 M270.2 516.4 V519.5 M278.8 516.4 V518.3 M287.3 516.4 V519.5 M295.8 516.4 V518.3 M304.4 516.4 V519.5 M312.9 516.4 V518.3 M321.4 516.4 V519.5 M329.9 516.4 V518.3 M338.4 516.4 V519.5 M347 516.4 V518.3 M355.5 516.4 V519.5 M364 516.4 V518.3" stroke="#000" stroke-width="1.4" fill="none"/>
<text x="213.1" y="509.7" text-anchor="end" font-size="11">0</text>
<text x="213.1" y="461.2" text-anchor="end" font-size="11">0.5</text>
<text x="213.1" y="412.8" text-anchor="end" font-size="11">1</text>
<text x="236.3" y="530.8" text-anchor="middle" font-size="11">20</text>
<text x="270.4" y="530.8" text-anchor="middle" font-size="11">40</text>
<text x="304.6" y="530.8" text-anchor="middle" font-size="11">60</text>
<text x="338.6" y="530.8" text-anchor="middle" font-size="11">80</text>
<text x="291.7" y="542.4" text-anchor="middle" font-size="11.1">Temperature (°C)</text>
<text x="221.7" y="513.8" font-size="11.25">Tm = 60.5 °C</text>
<path d="M385.8 399.2 V516.4 H530.7" fill="none" stroke="#000" stroke-width="1.7"/>
<path d="M385.8 506.4 H382.6 M385.8 482.2 H384 M385.8 457.9 H382.6 M385.8 433.7 H384 M385.8 409.5 H382.6 M385.8 516.4 V519.5 M394.3 516.4 V518.3 M402.9 516.4 V519.5 M411.4 516.4 V518.3 M419.9 516.4 V519.5 M428.4 516.4 V518.3 M437 516.4 V519.5 M445.5 516.4 V518.3 M454 516.4 V519.5 M462.5 516.4 V518.3 M471.1 516.4 V519.5 M479.6 516.4 V518.3 M488.1 516.4 V519.5 M496.6 516.4 V518.3 M505.2 516.4 V519.5 M513.7 516.4 V518.3 M522.2 516.4 V519.5 M530.7 516.4 V518.3" stroke="#000" stroke-width="1.4" fill="none"/>
<text x="379.8" y="509.7" text-anchor="end" font-size="11">0</text>
<text x="379.8" y="461.2" text-anchor="end" font-size="11">0.5</text>
<text x="379.8" y="412.8" text-anchor="end" font-size="11">1</text>
<text x="403.1" y="530.8" text-anchor="middle" font-size="11">20</text>
<text x="437.2" y="530.8" text-anchor="middle" font-size="11">40</text>
<text x="471.2" y="530.8" text-anchor="middle" font-size="11">60</text>
<text x="505.4" y="530.8" text-anchor="middle" font-size="11">80</text>
<text x="454.5" y="542.4" text-anchor="middle" font-size="11.1">Temperature (°C)</text>
<text x="388.4" y="513.8" font-size="11.25">Tm = 68.9 °C</text>
<path d="M53.2 253.2 54.1 252.6 55.2 252.3 56.6 252.4 58.1 252.3 59.7 252.1 61.4 251.9 63.1 252.2 64.3 252.4 65.6 252 66.9 252.2 68.2 252.1 69.6 251.3 71 251.6 72.3 251.4 73.7 251.1 75 251.7 76.2 251.1 77.7 251.4 79.2 251.5 80.6 251.9 82.1 251.8 83.4 251.8 84.7 252 86 251.9 87.1 252.8 88.7 253.1 90.1 252.7 91.3 252.9 92.5 253.5 93.7 254.1 94.8 255.1 95.9 255.7 97 256.3 98.1 256.4 99.1 257.9 100.2 258.8 101.1 259.7 102.1 261 103 261.3 103.9 262.6 104.8 264.3 105.7 265.6 106.5 266.6 107.3 267.6 108 269.1 108.8 270.5 109.5 271.3 110.2 272.8 110.8 274 111.5 275.2 112.2 276.8 112.8 277.8 113.4 279.1 114 280.3 114.6 282 115.2 282.8 115.8 284.7 116.4 285.6 117 286.8 117.5 288.8 118.1 289.6 118.7 291.5 119.2 292.9 119.8 294.3 120.2 294.9 120.7 296.3 121.1 297.2 121.6 299.1 122 300.3 122.5 301.4 122.9 302.5 123.4 303.6 123.8 305.3 124.2 306.2 124.7 307.6 125.1 308.5 125.6 309.8 126 310.9 126.5 312.7 126.9 313.9 127.4 314.8 127.8 316.6 128.3 317.5 128.8 319 129.3 320.2 129.8 321.7 130.2 323.5 130.8 324.5 131.3 325.6 131.8 327.2 132.3 328.3 132.9 330.1 133.5 330.7 134.1 332.6 134.7 333 135.3 334.9 135.9 335.8 136.5 336.5 137.3 338 138.1 339.1 139 340.3 139.9 341.4 140.8 342.5 141.8 344 142.9 344.9 144.1 345.7 145.4 345.8 146.7 346.6 147.9 347.6 149.1 347.2 150.7 348 152.1 347.5 153.5 347.7 155.1 346.4 156.3 346.7 157.5 345.9 158.7 345.2 160 344.6 161.3 344.7 162.5 343.8 163.7 342.9 165 342.4 166.2 342.1 167.4 340.7 168.7 340.2 169.9 339 171 338.3 172.1 337.9 173.2 337 174.2 335.8 175.3 334.8 176.3 333.9 177.3 333.5 178.4 332.4 179.4 331.2 180.4 330.2 181.3 329.5 182.3 328.6 183.2 327.7 184.4 326.4 185.6 324.9 186.7 323.6 187.7 323.2 188.4 322.2" fill="none" stroke="#1CA0E2" stroke-width="4.1" stroke-linejoin="round" stroke-linecap="round"/>
<path d="M53.2 260.9 54.1 260.1 55.4 260.7 57 260 58.7 260 59.8 259.7 61 258.9 62.2 257.9 63.6 258.3 64.9 257.4 66.2 257.2 67.5 256.2 68.8 255.6 70.1 255.9 71.3 255 72.6 254.3 73.9 254.1 75.1 254 76.2 253 77.7 253 79 252.4 80.3 252 81.5 251.3 82.8 251.6 84.1 251.6 85.4 251.7 86.8 251.2 88.1 251.8 89.3 251.9 90.5 252.8 91.6 252.8 92.7 254.4 93.8 255.3 95 255.8 96 256.6 97.1 257.4 98.2 258.3 99.3 258.7 100.4 260.8 101.5 261.2 102.2 262.1 103 263 103.8 264.2 104.5 265.9 105.3 266.2 106 267.5 106.7 269.2 107.4 269.9 108.1 270.8 108.8 272.6 109.4 273.8 110.1 274.9 110.7 276.3 111.2 276.9 111.8 278.9 112.4 280 113 280.6 113.5 281.9 114.1 283.5 114.7 284.8 115.2 285.9 115.8 287 116.3 288.6 116.9 289.7 117.4 291.4 117.9 293 118.4 293.5 118.9 295.2 119.3 296.7 119.8 297.3 120.2 299.3 120.7 300.6 121.1 301.4 121.6 302.6 122 304.3 122.4 305.3 122.9 306.4 123.3 308.3 123.8 309.4 124.2 310.2 124.7 311.4 125.1 312.8 125.6 314.2 126 316 126.4 317.1 126.9 318.5 127.3 319.7 127.8 321 128.2 321.5 128.7 323.2 129.1 324.9 129.6 326.1 130.1 326.6 130.7 328.1 131.3 329.7 131.9 330.7 132.5 332.1 133.1 332.9 133.7 334.4 134.4 335.6 135 336.2 135.9 337.7 136.8 339.8 137.7 340.8 138.6 342 139.5 342.7 140.3 343.8 141.4 345.1 142.5 346.2 143.5 346.3 144.7 347.4 146.1 347.3 147.6 347.6 149.1 346.9 150.6 346.8 152.1 347 153.5 346.3 155 345.6 156.5 345.3 157.7 344.7 158.9 344.7 160.1 343.4 161.3 342.8 162.5 342.4 163.7 341.2 164.9 341 166 340.6 167.2 339.4 168.4 338.4 169.6 337.8 170.8 337.2 171.9 336.1 173.1 335.3 174.3 334.5 175.5 333.8 176.8 333 178 331.9 179.2 331 180.3 330 181.5 329.6 182.6 329.2 183.7 328.3 184.7 327.6 186.1 326.5 187.5 325 188.4 324.7" fill="none" stroke="#E2570F" stroke-width="4.6" stroke-linejoin="round" stroke-linecap="round"/>
<path d="M219.9 251.5 220.7 251.6 221.6 251.7 222.8 251.6 224 251.6 225.4 251.6 226.9 251.7 228.4 252 229.9 252 231.5 252.3 232.9 251.9 234.3 252.2 235.6 252.7 236.8 252.3 238.5 252.6 240.1 252.6 241.6 252.4 243 253 244.4 252.5 245.6 252.9 246.8 252.5 248 252.7 249.4 253.7 250.7 253.8 251.8 254.1 252.9 255 253.9 255.7 255 256.7 256.1 257 257.1 257.9 258.1 259.3 259.1 260.1 260 260.6 261 261.9 261.8 262.9 262.6 264.2 263.4 265.2 264.2 266.6 265 267.8 265.7 268.7 266.5 270.2 267.2 271.3 267.8 272.5 268.4 273.5 269.1 275 269.7 276.3 270.3 277.7 270.9 278.4 271.5 280.3 272 280.8 272.5 282.6 273 283.7 273.5 284.9 274 286.5 274.4 287.4 274.9 288.5 275.4 290 275.8 291.3 276.3 292.4 276.8 293.5 277.3 294.9 277.7 296.2 278.2 297.6 278.6 298.5 279.1 299.8 279.5 301 280 302.4 280.6 303.7 281 305.4 281.5 306.7 282 307.7 282.5 309 283 310 283.5 311.4 284 312.5 284.5 314.1 285 315.3 285.5 316.2 286.1 318.3 286.7 319.2 287.3 321 287.9 322.4 288.5 323.9 289.2 324.6 289.8 326.1 290.5 327.8 291.3 328.3 292 329.6 292.8 331.3 293.6 332.5 294.4 334 295.2 335.1 296 336 297 337.8 298 338.7 299 339.9 300 341.1 301.3 342.1 302.6 343.1 304 344.3 305.2 345 306.4 346.5 307.7 347.2 309 347.6 310.5 347.4 312 347.5 313.5 347.3 315 347 316.3 346.7 317.6 346.4 318.8 345.9 320 345 321.3 344.4 322.6 344.1 323.8 343.9 325 342.9 326.4 342.4 327.7 342 329 340.9 330.3 340.7 331.7 341 333.4 340.4 334.5 339.7 335.7 338.9 337 339 338.3 338.3 339.6 337.8 340.8 337.5 342.4 336.8 344 335.9 345.4 335.2 346.8 334.7 348 334.2 349.1 333.4 350.1 332.4 351.2 331.6 352.4 331.2 353.7 330.3 354.9 329.4 355.7 329.4" fill="none" stroke="#1CA0E2" stroke-width="4.1" stroke-linejoin="round" stroke-linecap="round"/>
<path d="M219.9 252.1 220.9 251.6 222.2 252.1 223.9 252.6 225.9 252.2 227 252.7 228.3 252.1 229.7 252.5 231.2 253.1 232.7 252.9 234.1 253.1 235.5 252.7 236.8 253.1 238.4 253.2 240 253 241.5 253.4 242.9 253.3 244.3 253.8 245.6 253.6 247.1 253.7 248.5 253.8 249.8 254.3 251 255.5 252.1 255.3 253.5 256.1 254.7 257.1 256 258.5 257 259.6 258.1 260.2 259.3 261.3 260.4 261.6 261.5 262.7 262.2 264.4 262.9 265 263.6 266.5 264.3 267.3 265 268.3 265.7 269.7 266.4 270.9 266.9 272.8 267.5 273.7 268.1 274.7 268.6 276.1 269.2 277.4 269.7 278.4 270.3 280.6 270.8 281.6 271.3 283.3 271.8 284 272.3 285.4 272.7 286.3 273.2 287.3 273.6 289.4 274.1 290.6 274.5 291.3 274.9 293.2 275.4 294.5 275.8 295.2 276.2 296.7 276.6 298.4 276.9 299.2 277.3 301 277.7 301.6 278.1 303.1 278.5 304.8 278.9 305.6 279.2 306.9 279.6 308.7 280 309.7 280.4 311.5 280.9 312.3 281.3 313.6 281.7 315.2 282 316.3 282.4 318.3 282.8 318.9 283.2 320.3 283.8 321.4 284.3 323.2 284.9 324.4 285.4 325.6 286 326.4 286.5 327.6 287.1 329.7 287.7 330.4 288.3 331.5 288.9 332.6 289.5 333.8 290.2 335.1 291 336.1 291.7 338 292.5 338.8 293.4 339.8 294.2 341.6 295.1 342.1 296 343.3 297 345.2 297.9 345.7 299 346.7 300.2 347.3 301.6 347 303 346 304.6 345.8 306.3 345.7 308 344.9 309.2 345 310.5 343.8 311.8 344 313 343 314.2 342.1 315.5 341.6 316.8 340.5 318 340.4 319.2 339.3 320.5 339.2 321.8 338.2 323 337.4 324.2 336.7 325.4 336.7 326.6 335.8 328 335.9 329.3 334.5 330.7 334.1 332.2 333.4 333.6 332.3 334.9 332.2 336.6 330.9 338 330.5 339.3 329.8 340.7 328.8 342 328.3 343.1 327.8 344.3 328.2 345.3 330.1 345.9 330.6 346.4 332.3 346.9 333.2 347.5 335 348.2 336.2 348.9 337.5 349.7 338.4 351.2 339.4 352.7 340.6 354 341.4 354.9 341.9" fill="none" stroke="#E2570F" stroke-width="4.6" stroke-linejoin="round" stroke-linecap="round"/>
<path d="M386.6 251.7 387.4 251.4 388.3 251.6 389.5 252.1 390.7 252 392.1 252.2 393.6 252.3 395.1 251.9 396.7 252.1 398.2 252.1 399.8 252.8 401.3 252.9 402.7 252.9 404 253.1 405.4 253.6 406.7 253.9 408.1 253.8 409.5 254.6 410.8 254.5 412.1 255.1 413.4 255.1 414.6 255.4 415.9 256.4 417 256.6 418.1 257 419.1 256.8 420.7 257.5 422 258.2 423.2 258.9 424.3 259.7 425.3 260.4 426.4 260.9 427.5 261.8 428.6 262.9 429.8 263.3 430.9 264.6 432 265.2 433.1 266.2 434.2 266.8 435.3 267.9 436.2 269 437 269.6 437.9 270.3 438.7 272 439.6 273 440.4 273.6 441.2 274.5 442 276.2 442.8 277.1 443.6 277.7 444.3 279 445 280 445.7 281.7 446.4 282.4 447.1 284.2 447.7 285.3 448.4 285.9 449 287.7 449.6 288.7 450.2 290.2 450.8 291.6 451.4 292.5 451.9 293.6 452.5 295.6 453 296.6 453.6 298.3 454.1 299.5 454.6 300.7 455 302 455.5 303.1 456 304.2 456.4 305.1 456.9 306.9 457.3 307.9 457.7 309.2 458.2 310.7 458.6 311.2 459.1 313.1 459.6 313.8 460.1 315.7 460.6 317 461 317.8 461.5 319.3 462.1 320.9 462.6 321.9 463.2 323.1 463.8 324.2 464.4 325.3 465 326.9 465.6 328.2 466.3 329.3 466.9 330.6 467.6 331.6 468.4 333.4 469.2 334.7 470 335.6 470.8 336.8 471.6 338.2 472.5 339.3 473.3 340.6 474.5 341.4 475.7 342.4 476.9 343.8 478.2 344 479.5 345.1 480.7 345.4 481.9 346.4 483.2 346.6 484.5 347.2 485.8 347 487.1 347.6 488.6 347.6 490.1 347.4 491.5 347.5 493 347.3 494.5 346.5 496 346.5 497.5 346.4 498.9 346.2 500.4 345.9 501.9 345.8 503.4 345.4 504.9 345.2 506.4 344.5 507.9 343.7 509.3 343.7 511 344 512.6 344.5 514.1 344.8 515.3 344.7 516.2 343.6 516.9 342.8 517.5 340.9 518.2 339 519.5 338.2 521 337.4 522 336.5" fill="none" stroke="#1CA0E2" stroke-width="4.1" stroke-linejoin="round" stroke-linecap="round"/>
<path d="M386.6 251.6 387.5 252.1 388.9 252.2 390.4 252.2 392.1 252.7 393.8 252.4 395.4 253.5 396.8 253.4 398.4 253.6 399.9 254.1 401.2 254 402.6 253.7 404 253.9 405.3 254 406.5 254.1 407.8 255.1 409.1 255.4 410.4 255.1 411.7 255.3 413.2 256.1 414.7 256.7 416.2 257.1 417.6 256.9 419.1 258.1 420.3 258.7 421.6 259.3 422.8 259.6 424 260.3 425.3 261.8 426.5 262.1 427.6 262.9 428.6 263.9 429.7 264.5 430.8 265.8 431.9 266.1 432.9 266.9 434 268.5 434.9 269.5 435.8 270.7 436.8 271.7 437.7 273 438.6 274.2 439.5 274.9 440.4 276.1 441.2 277 441.9 278.2 442.6 279.5 443.3 280.1 444 281.8 444.7 282.4 445.4 283.9 446 285.6 446.7 285.9 447.3 287 447.9 288.6 448.4 289.5 448.9 291.2 449.5 291.7 450 293.7 450.5 295 451 296.1 451.5 297 452 298.1 452.5 299.7 453 300.9 453.6 302.1 454.1 303.4 454.6 304.9 455.1 306.4 455.6 308 456 309.4 456.5 309.9 457 311.3 457.5 312.8 458 314.3 458.5 315.3 459 316.5 459.4 317.6 459.9 319.1 460.5 320.5 461 322.3 461.6 323.5 462.2 324.7 462.8 326.2 463.4 327.4 464 328.4 464.7 329.8 465.3 330.3 466 332.1 466.8 333.3 467.6 334.3 468.4 335.8 469.2 337.4 470.1 338 470.9 339.3 471.7 339.9 472.8 341.2 473.9 342.8 474.9 342.9 476.1 344 477.4 345.2 478.6 345.5 480 345.5 481.4 346.4 482.8 346.4 484.3 346.8 485.6 346.7 487.1 346.8 488.6 346.7 490.1 346.3 491.5 345.8 493 345.7 494.5 346.3 496 345.8 497.5 345.2 499 345.9 500.4 345.1 502 344.6 503.5 344.6 504.9 343.9 506.4 343.8 507.9 343.5 509.4 342.8 510.9 342.7 512.3 341.9 513.9 341.8 515.4 341.3 516.8 340.4 518.4 340.6 520.1 340.3 521.2 340.7" fill="none" stroke="#E2570F" stroke-width="4.6" stroke-linejoin="round" stroke-linecap="round"/>
<path d="M53.2 410.9 54 410.7 54.9 411 56 411.1 57.3 410.7 58.7 411.6 60.1 411.5 61.6 411.2 63.2 411.9 64.7 411.8 66.3 411.8 67.8 412.6 69.2 412.6 70.6 413 71.8 412.7 73.3 413.6 74.8 413.4 76.2 414 77.6 414.6 79 414.8 80.3 415.8 81.6 416 82.8 416.6 84 417.4 85 417.6 86 418.3 87.7 418.8 89 419.5 90 419.8 91 420.6 92 421.1 93.1 421.2 94.3 422.3 95.4 422.8 96.4 423.9 97.5 424.6 98.5 425.6 99.6 426 100.6 427.2 101.6 428.5 102.6 429.9 103.4 430.8 104.3 431.4 105.1 433.1 105.9 433.9 106.7 435.6 107.5 437 108.3 437.7 109.1 439.6 109.9 440.6 110.7 441.5 111.5 442.8 112.2 444.4 112.8 445.9 113.4 447 114 447.9 114.6 449.2 115.1 450.6 115.7 452.4 116.2 453.2 116.7 454.8 117.3 455.9 117.8 457.4 118.3 458.4 118.8 459.5 119.3 461.3 119.8 462.3 120.3 463.7 120.8 465.1 121.3 466.5 121.9 467.1 122.4 468.7 122.9 469.8 123.4 471.4 123.9 473 124.4 474.3 124.9 475 125.4 476.4 125.9 478.2 126.4 479.4 126.9 480.4 127.5 481.9 128.1 483.1 128.6 485 129.2 486 129.8 487.8 130.5 488.9 131.2 489.8 131.9 491.3 132.6 492.6 133.4 494.4 134.2 495.4 135 496.1 136 497.6 137.1 499 138.1 500.2 139.2 501.4 140.3 502.1 141.5 503 142.7 503.4 144 504.4 145.5 504.7 146.7 504.6 148 505.1 149.3 505.7 150.7 505 152.2 505 153.6 505.3 154.8 504.9 156.1 504.7 157.4 504.6 158.6 504.1 159.9 504 161.2 503.7 162.5 503.7 163.8 503.3 165.1 502.2 166.4 502.1 167.7 501.9 169 501.5 170.2 501 171.4 500.4 172.7 499.9 174 499.2 175.3 498.7 176.5 498.6 177.7 498.2 178.8 497.7 180.1 496.6 181.4 495.4 182.6 494.8 183.7 493.9 184.7 492.9 186 491.8 187 490.5 187.7 489.9" fill="none" stroke="#1CA0E2" stroke-width="4.1" stroke-linejoin="round" stroke-linecap="round"/>
<path d="M53.2 411 54.2 410.8 55.6 411.3 57.2 411.5 59 412.4 60.9 412.2 62.1 412.2 63.4 412.3 64.8 412.4 66.3 412.7 67.7 412.7 69.1 412.7 70.5 413.8 71.8 413.7 73.2 414 74.6 414.5 75.9 414.7 77.2 415 78.4 415.3 79.5 416 80.6 416.4 82.2 417.5 83.6 417.9 84.8 418.8 86 418.8 87.4 420.2 88.7 420.7 90 421.1 91.2 421.9 92.4 423.1 93.7 424.3 94.9 424.7 95.9 426 96.9 426.6 97.8 428.1 98.8 428.4 99.8 430 100.6 431.5 101.4 432 102.2 433.1 103 434.1 103.8 435.4 104.6 436.8 105.4 438.4 106.3 439.2 107.1 440.6 107.9 441.6 108.7 443.4 109.5 445 110.1 446 110.7 446.7 111.3 448.6 111.8 450.1 112.3 451 112.9 451.8 113.4 453.8 113.9 455.1 114.5 455.9 115 456.9 115.5 458.2 116 459.8 116.5 461.4 117 462.4 117.5 464 118 464.6 118.5 466 119.1 467.7 119.6 468.9 120.1 470 120.6 471.6 121.1 472.5 121.6 473.6 122.1 475.3 122.6 476.2 123.1 478.1 123.6 479.1 124.1 480.5 124.7 482 125.3 483.1 125.9 484.7 126.5 485.6 127.1 487.9 127.8 488.9 128.4 490.5 129 490.7 129.7 492.4 130.4 493.7 131.1 494.4 131.8 495.3 132.5 496.4 133.4 497.5 134.3 499.1 135.3 499.5 136.3 501.1 137.3 501.6 138.2 502.4 139.5 503.4 140.9 504.1 142.2 504.7 143.5 505.1 144.8 505.2 146.2 505.7 147.6 505.3 149.1 505.7 150.5 505.6 151.9 505.4 153.4 504.6 155 504.6 156.5 504.5 157.7 503.6 159 503.1 160.2 503 161.5 503 162.8 501.8 164 501.3 165.5 501.3 167 501.1 168.4 500.8 169.9 499.9 171.4 500.1 172.9 498.9 174.4 498.9 175.9 497.8 177.4 497.3 178.8 496.9 180.4 496.3 182 496.1 183.4 495.6 184.7 494.8 186.9 495.1 188.4 494.3" fill="none" stroke="#E2570F" stroke-width="4.6" stroke-linejoin="round" stroke-linecap="round"/>
<path d="M219.9 408.7 220.7 408.9 221.6 409.4 222.8 409.8 224 409.3 225.4 409.4 226.9 410.2 228.4 410 230 410.8 231.5 410.7 233 411 234.4 411 235.6 411.6 236.8 411.5 238.4 411.6 239.9 412.4 241.3 412 242.6 412.7 243.8 412.4 245.1 413.1 246.4 413.2 247.8 413.8 249.1 413.4 250.5 414 251.8 414.2 253.2 414.8 254.6 415.1 256 415.1 257.4 415.1 258.7 415.3 260 415.6 261.4 416 262.8 416.1 264.2 416.4 265.5 417.1 266.9 417.3 268.2 417.3 269.5 418.2 270.9 418 272.1 418.6 273.4 418.7 274.7 419.7 275.9 420.2 277.2 420.2 278.4 421.1 279.6 421.7 280.8 421.8 281.8 422.4 283.2 423.3 284.5 424.6 285.7 424.9 286.9 426.3 287.9 427.1 289 428 290.2 429.1 291.4 430.5 292.5 431 293.5 432.6 294.5 433.4 295.4 435 296.3 436.3 297.1 437.1 297.8 438.9 298.6 440.4 299.3 441.2 300 442.3 300.7 443.7 301.3 445.8 302 446.6 302.5 448.5 303 449.1 303.5 450.8 303.9 451.6 304.4 453 304.9 454.8 305.4 455.7 305.8 457.1 306.3 458.8 306.7 460 307.1 461.4 307.6 462.8 308 463.4 308.4 464.9 308.9 466.7 309.3 467.9 309.7 468.6 310.2 470.3 310.6 471.4 311 472.8 311.5 473.9 311.9 475.1 312.4 477.1 312.8 477.9 313.2 479.6 313.7 480.2 314.1 481.8 314.6 482.8 315.1 484.3 315.5 485.3 316 486.9 316.4 487.6 316.9 489.2 317.6 490.5 318.3 491.6 319 493.2 319.7 494.5 320.5 496 321.2 496.7 322.1 497.8 323.1 499.4 324 500.3 325 501 326 501.4 327.2 502.2 328.3 503.1 329.5 503.6 330.9 504 332.2 504.7 333.7 504.8 335.3 505 336.8 504.8 338.2 504.4 339.7 504.6 341 504.1 342.3 503.3 343.6 502.5 344.7 501.9 345.8 501.3 346.9 500.3 348 499.2 349.1 497.9 350.3 496.7 351.5 495.5 352.7 494.7 353.8 493.2 354.5 492.4" fill="none" stroke="#1CA0E2" stroke-width="4.1" stroke-linejoin="round" stroke-linecap="round"/>
<path d="M219.9 408.9 220.8 408.7 221.9 409.6 223.3 408.7 224.9 409.3 226.5 409.7 228.1 409.2 229.3 409.6 230.6 409.4 232 409.3 233.4 409.4 234.8 409.4 236.2 410.2 237.6 410.2 239 410.4 240.4 409.6 241.7 410.4 243.1 410.1 244.5 410.5 245.9 410.5 247.2 410.4 248.6 411.2 249.9 410.4 251.4 411.4 253 411.7 254.5 411.6 256 412 257.5 412.7 258.8 412.1 260 412.7 261.7 413 263 412.8 264.2 413.2 265.5 413 266.9 413.3 268.2 413.7 269.5 414 270.9 414 272.3 414.8 273.6 415.2 275 415.5 276.4 416.5 277.8 416.8 279.2 418.1 280.5 418.3 281.8 419.3 282.9 419.9 284 420.8 285 421.4 286 422.1 287.3 423.6 288.6 423.9 290 424.9 290.8 425.8 291.6 427 292.4 427.5 293.3 428.6 294.1 430.5 294.9 431.4 295.5 432.6 296.1 433.9 296.7 435.1 297.3 436.3 297.9 436.6 298.4 438.2 299 439.9 299.5 441.1 300 441.5 300.5 442.7 301.1 444.1 301.6 445.1 302.1 446.7 302.6 448.4 303.1 449.4 303.6 450.5 304 451.4 304.5 453 304.9 454.8 305.4 455.8 305.8 456.9 306.3 458.2 306.7 459.8 307.2 461.1 307.6 461.7 308.1 463.5 308.5 464.5 309 465.9 309.4 466.9 309.9 468.3 310.3 469.6 310.8 470.9 311.2 471.8 311.7 473.3 312.1 475 312.6 475.8 313 477.2 313.5 479 313.9 479.9 314.4 481.2 314.8 482.3 315.3 484 315.9 484.7 316.4 486.7 317 488.3 317.6 488.9 318.2 490.4 318.8 491.9 319.4 492.8 320.3 494 321.3 494.9 322.2 496.4 323.3 497.3 324.3 498.6 325.4 499.1 326.5 500 327.7 500.9 328.8 501.6 330 501.6 331.4 501.8 332.9 502 334.3 502.2 335.8 501.4 337.3 502.1 338.9 501.7 340.5 501.3 341.8 501.8 343.1 502.2 344.2 503 345.5 504.7 346.7 504.9 348.1 505.6 349.6 506 350.9 506.6 352.7 506.3 354.3 505.2 355.5 505.4" fill="none" stroke="#E2570F" stroke-width="4.6" stroke-linejoin="round" stroke-linecap="round"/>
<g fill="#1CA0E2"><circle cx="386.2" cy="426.5" r="1.6"/><circle cx="387.6" cy="426" r="1.6"/><circle cx="388.5" cy="427.2" r="1.6"/><circle cx="389.7" cy="425.7" r="1.6"/><circle cx="390.7" cy="426.4" r="1.6"/><circle cx="391.9" cy="425.9" r="1.6"/><circle cx="392.8" cy="423.6" r="1.6"/><circle cx="394.2" cy="424.9" r="1.6"/><circle cx="395.3" cy="425.4" r="1.6"/><circle cx="395.8" cy="423.5" r="1.6"/><circle cx="397" cy="425.1" r="1.6"/><circle cx="398.1" cy="422.7" r="1.6"/><circle cx="399.8" cy="423.8" r="1.6"/><circle cx="400.2" cy="423.9" r="1.6"/><circle cx="401.9" cy="423" r="1.6"/><circle cx="402.5" cy="423.2" r="1.6"/><circle cx="403.7" cy="422.6" r="1.6"/><circle cx="405.4" cy="423" r="1.6"/><circle cx="406.4" cy="420.6" r="1.6"/><circle cx="407.1" cy="421.4" r="1.6"/><circle cx="407.8" cy="422.5" r="1.6"/><circle cx="409.2" cy="419.9" r="1.6"/><circle cx="410.3" cy="419.5" r="1.6"/><circle cx="411.9" cy="420.1" r="1.6"/><circle cx="412.7" cy="419.4" r="1.6"/><circle cx="413.5" cy="418.7" r="1.6"/><circle cx="415.1" cy="419.9" r="1.6"/><circle cx="416.3" cy="418" r="1.6"/><circle cx="416.9" cy="417" r="1.6"/><circle cx="418.2" cy="417.7" r="1.6"/><circle cx="419.3" cy="417.8" r="1.6"/><circle cx="420.5" cy="417.2" r="1.6"/><circle cx="421.6" cy="416.5" r="1.6"/><circle cx="422.9" cy="417.3" r="1.6"/><circle cx="423.4" cy="416.3" r="1.6"/><circle cx="424.8" cy="416.4" r="1.6"/><circle cx="426" cy="415.9" r="1.6"/><circle cx="426.8" cy="417.1" r="1.6"/><circle cx="428" cy="416.6" r="1.6"/><circle cx="429.4" cy="416.1" r="1.6"/><circle cx="430.3" cy="417" r="1.6"/><circle cx="431.3" cy="416.7" r="1.6"/><circle cx="432.2" cy="415.4" r="1.6"/><circle cx="433.7" cy="414.3" r="1.6"/><circle cx="435.1" cy="414.4" r="1.6"/><circle cx="435.9" cy="414.8" r="1.6"/><circle cx="437.2" cy="416.1" r="1.6"/><circle cx="438.3" cy="416.1" r="1.6"/><circle cx="439.2" cy="416.7" r="1.6"/><circle cx="440" cy="415.5" r="1.6"/><circle cx="441.5" cy="415.5" r="1.6"/><circle cx="442.6" cy="415.9" r="1.6"/><circle cx="443.2" cy="415.8" r="1.6"/><circle cx="444.9" cy="418.6" r="1.6"/><circle cx="445.6" cy="417.9" r="1.6"/><circle cx="446.6" cy="418.9" r="1.6"/><circle cx="448.2" cy="416.8" r="1.6"/><circle cx="448.7" cy="418.5" r="1.6"/><circle cx="449.7" cy="418.9" r="1.6"/><circle cx="451" cy="417" r="1.6"/><circle cx="452.3" cy="417.2" r="1.6"/><circle cx="453.5" cy="416.7" r="1.6"/><circle cx="454.8" cy="417.2" r="1.6"/><circle cx="455.9" cy="416.8" r="1.6"/><circle cx="457" cy="419.4" r="1.6"/><circle cx="457.7" cy="416.8" r="1.6"/><circle cx="458.7" cy="418.8" r="1.6"/><circle cx="459.7" cy="418.9" r="1.6"/><circle cx="460.7" cy="419" r="1.6"/><circle cx="462.3" cy="419.4" r="1.6"/><circle cx="463.4" cy="419" r="1.6"/><circle cx="464.6" cy="419.9" r="1.6"/><circle cx="465.8" cy="423.7" r="1.6"/><circle cx="466.9" cy="423.6" r="1.6"/><circle cx="467.5" cy="424.4" r="1.6"/><circle cx="469" cy="426.4" r="1.6"/><circle cx="470.3" cy="426.8" r="1.6"/><circle cx="470.9" cy="430.6" r="1.6"/><circle cx="472.1" cy="431.2" r="1.6"/><circle cx="472.9" cy="431.9" r="1.6"/><circle cx="474.1" cy="435.9" r="1.6"/><circle cx="475.7" cy="435.7" r="1.6"/><circle cx="476.8" cy="436.9" r="1.6"/><circle cx="477.7" cy="441.6" r="1.6"/><circle cx="478.5" cy="443.4" r="1.6"/><circle cx="479.9" cy="442.7" r="1.6"/><circle cx="480.7" cy="445.8" r="1.6"/><circle cx="481.7" cy="448.9" r="1.6"/><circle cx="482.8" cy="451.9" r="1.6"/><circle cx="484" cy="454.2" r="1.6"/><circle cx="485.3" cy="459.4" r="1.6"/><circle cx="486.4" cy="465.4" r="1.6"/><circle cx="487.5" cy="467.3" r="1.6"/><circle cx="488.1" cy="469.9" r="1.6"/><circle cx="489.3" cy="472.8" r="1.6"/><circle cx="490.4" cy="475.6" r="1.6"/><circle cx="491.7" cy="478.7" r="1.6"/><circle cx="493.1" cy="481.9" r="1.6"/><circle cx="493.8" cy="487.6" r="1.6"/><circle cx="495" cy="490.4" r="1.6"/><circle cx="496.6" cy="492.3" r="1.6"/><circle cx="497" cy="493.6" r="1.6"/><circle cx="498.7" cy="496.1" r="1.6"/><circle cx="499.6" cy="499.7" r="1.6"/><circle cx="500.3" cy="501.4" r="1.6"/><circle cx="501.5" cy="502.6" r="1.6"/><circle cx="502.8" cy="502.4" r="1.6"/><circle cx="503.8" cy="502.2" r="1.6"/><circle cx="504.8" cy="500.6" r="1.6"/><circle cx="506" cy="502" r="1.6"/><circle cx="507.2" cy="501.1" r="1.6"/><circle cx="508" cy="500.2" r="1.6"/><circle cx="509.5" cy="498.8" r="1.6"/><circle cx="510.7" cy="497.5" r="1.6"/><circle cx="511.5" cy="496.6" r="1.6"/><circle cx="512.5" cy="494" r="1.6"/><circle cx="513.5" cy="493.2" r="1.6"/><circle cx="515" cy="492" r="1.6"/><circle cx="516.3" cy="490.4" r="1.6"/><circle cx="517.2" cy="489.7" r="1.6"/><circle cx="518.3" cy="489.6" r="1.6"/><circle cx="519.5" cy="483.9" r="1.6"/><circle cx="520.3" cy="484.6" r="1.6"/><circle cx="521.9" cy="484.2" r="1.6"/><circle cx="415.2" cy="428.2" r="1.6"/><circle cx="420" cy="426.5" r="1.6"/><circle cx="445" cy="421" r="1.6"/></g>
<g fill="#E2570F"><circle cx="386.3" cy="424" r="1.95"/><circle cx="387.4" cy="423" r="1.95"/><circle cx="388.5" cy="422.7" r="1.95"/><circle cx="389.5" cy="421.6" r="1.95"/><circle cx="390.4" cy="421.8" r="1.95"/><circle cx="391.1" cy="420.8" r="1.95"/><circle cx="391.8" cy="421.5" r="1.95"/><circle cx="393" cy="420.2" r="1.95"/><circle cx="393.8" cy="419.8" r="1.95"/><circle cx="394.6" cy="419.6" r="1.95"/><circle cx="395.7" cy="420.5" r="1.95"/><circle cx="397.2" cy="419.9" r="1.95"/><circle cx="397.6" cy="419.2" r="1.95"/><circle cx="398.8" cy="419.5" r="1.95"/><circle cx="399.8" cy="418.7" r="1.95"/><circle cx="400.4" cy="418.4" r="1.95"/><circle cx="401.7" cy="418.4" r="1.95"/><circle cx="402.1" cy="418" r="1.95"/><circle cx="403.2" cy="416.7" r="1.95"/><circle cx="404.7" cy="417.2" r="1.95"/><circle cx="405.5" cy="416" r="1.95"/><circle cx="406.5" cy="417" r="1.95"/><circle cx="407.5" cy="416.4" r="1.95"/><circle cx="408.5" cy="416.1" r="1.95"/><circle cx="409.2" cy="415.2" r="1.95"/><circle cx="410.4" cy="415.4" r="1.95"/><circle cx="411.4" cy="414.3" r="1.95"/><circle cx="412.2" cy="414.5" r="1.95"/><circle cx="413.2" cy="413.5" r="1.95"/><circle cx="414.2" cy="414.2" r="1.95"/><circle cx="414.6" cy="413.9" r="1.95"/><circle cx="415.5" cy="412.6" r="1.95"/><circle cx="416.7" cy="412.3" r="1.95"/><circle cx="417.7" cy="413.1" r="1.95"/><circle cx="418.8" cy="412.5" r="1.95"/><circle cx="419.5" cy="412.4" r="1.95"/><circle cx="420.8" cy="411.9" r="1.95"/><circle cx="421.8" cy="411.9" r="1.95"/><circle cx="422.3" cy="410.5" r="1.95"/><circle cx="423.6" cy="411.5" r="1.95"/><circle cx="424.1" cy="410.9" r="1.95"/><circle cx="425.5" cy="411" r="1.95"/><circle cx="425.8" cy="410.3" r="1.95"/><circle cx="426.8" cy="409.6" r="1.95"/><circle cx="428.4" cy="410" r="1.95"/><circle cx="429.2" cy="410" r="1.95"/><circle cx="429.9" cy="409.6" r="1.95"/><circle cx="430.9" cy="410.7" r="1.95"/><circle cx="431.9" cy="409.9" r="1.95"/><circle cx="432.4" cy="410.1" r="1.95"/><circle cx="433.9" cy="410.5" r="1.95"/><circle cx="434.8" cy="411.3" r="1.95"/><circle cx="435.4" cy="411.3" r="1.95"/><circle cx="436.3" cy="411.8" r="1.95"/><circle cx="437.4" cy="411.2" r="1.95"/><circle cx="439" cy="411.7" r="1.95"/><circle cx="439.4" cy="412.9" r="1.95"/><circle cx="440.5" cy="413.2" r="1.95"/><circle cx="441.3" cy="412.9" r="1.95"/><circle cx="442.7" cy="413.2" r="1.95"/><circle cx="443.7" cy="412.9" r="1.95"/><circle cx="444.6" cy="413" r="1.95"/><circle cx="445.1" cy="412.7" r="1.95"/><circle cx="445.9" cy="414.2" r="1.95"/><circle cx="447.1" cy="413.9" r="1.95"/><circle cx="447.8" cy="413.1" r="1.95"/><circle cx="448.7" cy="413.4" r="1.95"/><circle cx="450.3" cy="413.3" r="1.95"/><circle cx="450.7" cy="414.1" r="1.95"/><circle cx="452.1" cy="413.8" r="1.95"/><circle cx="452.4" cy="414" r="1.95"/><circle cx="453.7" cy="414.8" r="1.95"/><circle cx="454.6" cy="414.6" r="1.95"/><circle cx="455.8" cy="414.5" r="1.95"/><circle cx="456.7" cy="415.3" r="1.95"/><circle cx="458" cy="415.4" r="1.95"/><circle cx="458.5" cy="416.5" r="1.95"/><circle cx="459.2" cy="416.6" r="1.95"/><circle cx="460.6" cy="416.4" r="1.95"/><circle cx="461.4" cy="417" r="1.95"/><circle cx="462.7" cy="417.3" r="1.95"/><circle cx="463.5" cy="416.5" r="1.95"/><circle cx="464.1" cy="417.2" r="1.95"/><circle cx="465.5" cy="419" r="1.95"/><circle cx="465.8" cy="419.3" r="1.95"/><circle cx="467.1" cy="419.4" r="1.95"/><circle cx="467.9" cy="421.8" r="1.95"/><circle cx="469" cy="422.2" r="1.95"/><circle cx="470.1" cy="423.5" r="1.95"/><circle cx="470.8" cy="424.9" r="1.95"/><circle cx="472.2" cy="426.6" r="1.95"/><circle cx="472.9" cy="427.8" r="1.95"/><circle cx="473.6" cy="429.5" r="1.95"/><circle cx="474.8" cy="430.2" r="1.95"/><circle cx="475.4" cy="430.6" r="1.95"/><circle cx="476.5" cy="432.8" r="1.95"/><circle cx="477.7" cy="433.4" r="1.95"/><circle cx="478.1" cy="435.1" r="1.95"/><circle cx="479.6" cy="436.1" r="1.95"/><circle cx="480.5" cy="437.9" r="1.95"/><circle cx="481.1" cy="439.6" r="1.95"/><circle cx="482" cy="442.3" r="1.95"/><circle cx="483.5" cy="445.5" r="1.95"/><circle cx="483.8" cy="446.6" r="1.95"/><circle cx="485.4" cy="448.8" r="1.95"/><circle cx="485.8" cy="451.7" r="1.95"/><circle cx="486.6" cy="454" r="1.95"/><circle cx="487.8" cy="456.8" r="1.95"/><circle cx="489.2" cy="459.4" r="1.95"/><circle cx="489.5" cy="463.3" r="1.95"/><circle cx="490.7" cy="466.1" r="1.95"/><circle cx="491.8" cy="468.9" r="1.95"/><circle cx="492.5" cy="470.8" r="1.95"/><circle cx="493.8" cy="474.1" r="1.95"/><circle cx="494.6" cy="477.1" r="1.95"/><circle cx="495.7" cy="479.3" r="1.95"/><circle cx="496.3" cy="483.2" r="1.95"/><circle cx="497.4" cy="485.3" r="1.95"/><circle cx="498.4" cy="488.2" r="1.95"/><circle cx="499.5" cy="491" r="1.95"/><circle cx="500.5" cy="494.2" r="1.95"/><circle cx="501.1" cy="497.2" r="1.95"/><circle cx="502" cy="498.1" r="1.95"/><circle cx="502.8" cy="500.4" r="1.95"/><circle cx="504.2" cy="502.1" r="1.95"/><circle cx="505" cy="504" r="1.95"/><circle cx="505.7" cy="504.4" r="1.95"/><circle cx="507.1" cy="506.3" r="1.95"/><circle cx="508" cy="506.4" r="1.95"/><circle cx="509.1" cy="506" r="1.95"/><circle cx="510.2" cy="506.2" r="1.95"/><circle cx="510.7" cy="505" r="1.95"/><circle cx="511.9" cy="504.3" r="1.95"/><circle cx="512.3" cy="504.2" r="1.95"/><circle cx="513.6" cy="502.6" r="1.95"/><circle cx="514.6" cy="502.2" r="1.95"/><circle cx="515.2" cy="500.3" r="1.95"/><circle cx="516.2" cy="499.6" r="1.95"/><circle cx="517.4" cy="499.7" r="1.95"/><circle cx="518.4" cy="498.6" r="1.95"/><circle cx="519.1" cy="497.9" r="1.95"/><circle cx="520.1" cy="497.5" r="1.95"/><circle cx="521.4" cy="496.7" r="1.95"/><circle cx="521.8" cy="495.5" r="1.95"/></g>
<text x="164.3" y="246.3" text-anchor="middle" font-size="10" font-weight="bold">R1</text>
<rect x="140.8" y="247.6" width="47" height="21.2" fill="#fff" stroke="#666" stroke-width="1"/>
<circle cx="144.2" cy="254.2" r="1.6" fill="#1CA0E2"/>
<circle cx="144.2" cy="263.4" r="1.6" fill="#E2570F"/>
<text x="150.1" y="257.1" font-size="10.4">Cooling</text>
<text x="149.8" y="266.4" font-size="10.4">Heating</text>
<text x="331.2" y="246.3" text-anchor="middle" font-size="10" font-weight="bold">R2</text>
<rect x="307.7" y="247.6" width="47" height="21.2" fill="#fff" stroke="#666" stroke-width="1"/>
<circle cx="311.1" cy="254.2" r="1.6" fill="#1CA0E2"/>
<circle cx="311.1" cy="263.4" r="1.6" fill="#E2570F"/>
<text x="317" y="257.1" font-size="10.4">Cooling</text>
<text x="316.7" y="266.4" font-size="10.4">Heating</text>
<text x="507.7" y="246.3" text-anchor="middle" font-size="10" font-weight="bold">R3</text>
<rect x="484.2" y="247.6" width="47" height="21.2" fill="#fff" stroke="#666" stroke-width="1"/>
<circle cx="487.6" cy="254.2" r="1.6" fill="#1CA0E2"/>
<circle cx="487.6" cy="263.4" r="1.6" fill="#E2570F"/>
<text x="493.5" y="257.1" font-size="10.4">Cooling</text>
<text x="493.2" y="266.4" font-size="10.4">Heating</text>
<text x="164.3" y="410" text-anchor="middle" font-size="10" font-weight="bold">R4</text>
<rect x="140.8" y="411.3" width="47" height="21.2" fill="#fff" stroke="#666" stroke-width="1"/>
<circle cx="144.2" cy="417.9" r="1.6" fill="#1CA0E2"/>
<circle cx="144.2" cy="427.1" r="1.6" fill="#E2570F"/>
<text x="150.1" y="420.8" font-size="10.4">Cooling</text>
<text x="149.8" y="430.1" font-size="10.4">Heating</text>
<text x="331.2" y="410" text-anchor="middle" font-size="10" font-weight="bold">F2</text>
<rect x="307.7" y="411.3" width="47" height="21.2" fill="#fff" stroke="#666" stroke-width="1"/>
<circle cx="311.1" cy="417.9" r="1.6" fill="#1CA0E2"/>
<circle cx="311.1" cy="427.1" r="1.6" fill="#E2570F"/>
<text x="317" y="420.8" font-size="10.4">Cooling</text>
<text x="316.7" y="430.1" font-size="10.4">Heating</text>
<text x="507.7" y="410" text-anchor="middle" font-size="10" font-weight="bold">F4</text>
<rect x="484.2" y="411.3" width="47" height="21.2" fill="#fff" stroke="#666" stroke-width="1"/>
<circle cx="487.6" cy="417.9" r="1.6" fill="#1CA0E2"/>
<circle cx="487.6" cy="427.1" r="1.6" fill="#E2570F"/>
<text x="493.5" y="420.8" font-size="10.4">Cooling</text>
<text x="493.2" y="430.1" font-size="10.4">Heating</text>
</svg>
</body></html>
